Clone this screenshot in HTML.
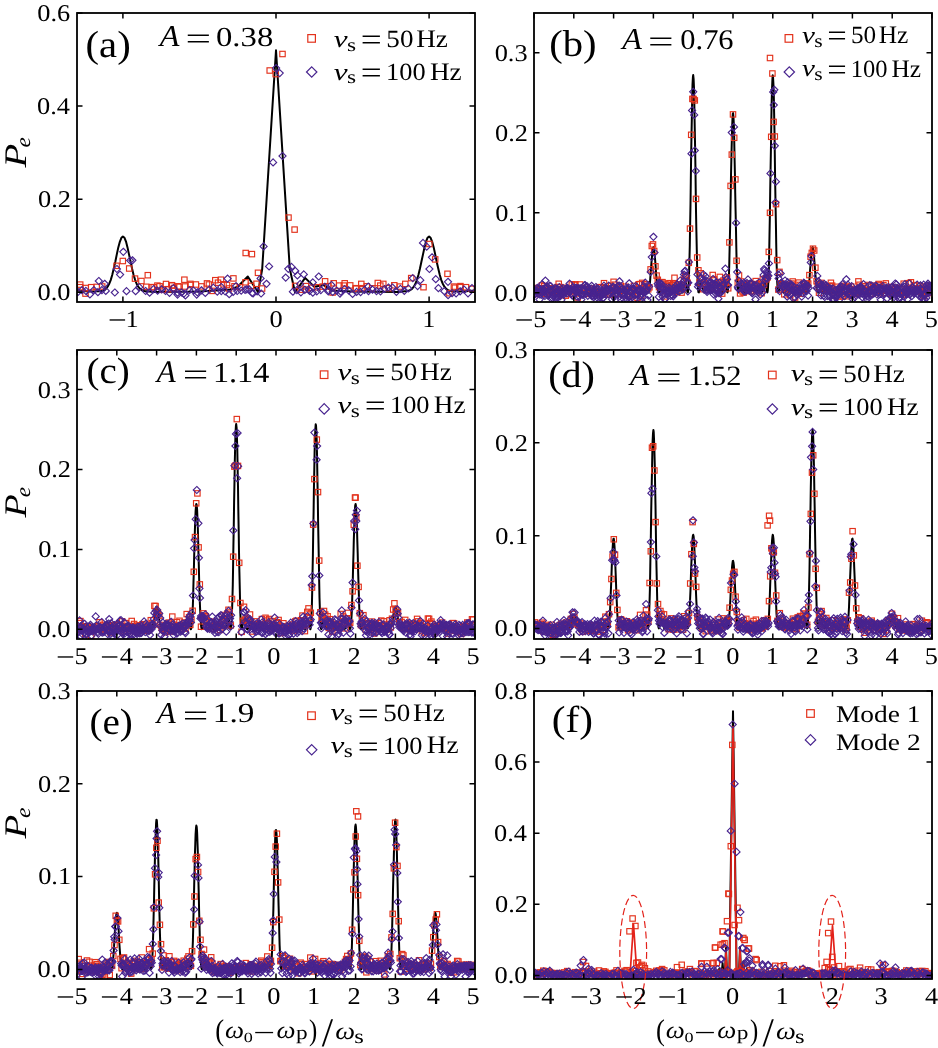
<!DOCTYPE html>
<html><head><meta charset="utf-8"><style>
html,body{margin:0;padding:0;background:#fff;overflow:hidden;}
svg{display:block;will-change:transform;}
text{font-family:"Liberation Serif", serif;fill:#000;text-rendering:geometricPrecision;}
</style></head><body>
<svg width="938" height="1048" viewBox="0 0 938 1048">
<rect width="938" height="1048" fill="#fff"/>
<defs>
<marker id="sq" markerUnits="userSpaceOnUse" markerWidth="12" markerHeight="12" refX="6" refY="6" overflow="visible"><rect x="3.3" y="3.3" width="5.4" height="5.4" fill="none" stroke="#e3321c" stroke-width="1.15"/></marker>
<marker id="di" markerUnits="userSpaceOnUse" markerWidth="12" markerHeight="12" refX="6" refY="6" overflow="visible"><path d="M6 2.45L9.55 6L6 9.55L2.45 6Z" fill="none" stroke="#48248f" stroke-width="1.15"/></marker>
<clipPath id="cpa"><rect x="77" y="13" width="398" height="289"/></clipPath>
<clipPath id="cpb"><rect x="534" y="13" width="398" height="289"/></clipPath>
<clipPath id="cpc"><rect x="77" y="350" width="398" height="289"/></clipPath>
<clipPath id="cpd"><rect x="534" y="350" width="398" height="289"/></clipPath>
<clipPath id="cpe"><rect x="77" y="691" width="398" height="288"/></clipPath>
<clipPath id="cpf"><rect x="534" y="691" width="398" height="288"/></clipPath>
</defs>
<g clip-path="url(#cpa)">
<path d="M77 290.5 89.2 291.4 98.4 291.3 100 291.2 101.5 291 103 290.5 104.6 289.8 106.1 288.6 107.6 286.7 109.1 284 110.7 280.1 112.2 275 113.7 268.8 115.3 261.8 116.8 254.4 118.3 247.4 119.9 241.6 121.4 237.8 122.9 236.5 124.5 237.8 126 241.6 127.5 247.4 129 254.4 130.6 261.8 132.1 268.8 133.6 275 135.2 280.1 136.7 284 138.2 286.7 139.8 288.6 141.3 289.8 142.8 290.5 144.4 291 145.9 291.2 147.4 291.3 153.5 291.9 199.5 291.4 230.1 289.5 237.7 286.7 247.8 276.5 258.1 292.3 262.2 269 276 50.2 289.8 269 295 292.3 305.1 277.9 314.3 286.7 323.5 284.9 331.1 290.5 352.5 291.4 398.5 291.9 404.6 291.3 406.1 291.2 407.6 291 409.2 290.5 410.7 289.8 412.2 288.6 413.8 286.7 415.3 284 416.8 280.1 418.4 275 419.9 268.8 421.4 261.8 423 254.4 424.5 247.4 426 241.6 427.5 237.8 429.1 236.5 430.6 237.8 432.1 241.6 433.7 247.4 435.2 254.4 436.7 261.8 438.3 268.8 439.8 275 441.3 280.1 442.9 284 444.4 286.7 445.9 288.6 447.4 289.8 449 290.5 450.5 291 452 291.2 453.6 291.3 462.8 291.4 475 290.5" stroke="#000" stroke-width="2" fill="none" stroke-linejoin="round"/>
<path d="M80.2 284.6 85.7 288 91.2 287.2 96.7 286.9 102.2 286.5 146.3 286.8 151.8 287.2 157.4 285.6 162.9 289.8 168.4 289.2 173.9 288 179.4 286.8 184.9 286.5 190.4 283.9 195.9 284.5 201.4 286.4 207 283.4 212.5 290.9 218 282.7 223.5 284.3 229 288.5 234.5 286.3 240 287.3 245.5 282.3 251 285.9 256.5 283.8 262.1 288.5 295.1 285.9 300.6 289.7 306.1 289.6 311.7 287.8 317.2 287.3 322.7 286.6 328.2 286.2 333.7 283.3 339.2 285.6 344.7 283.3 350.2 285.4 355.7 288.7 361.3 283.9 366.8 286.3 372.3 288.3 377.8 283 383.3 283.9 388.8 288.2 394.3 285.3 399.8 286.6 405.3 283.9 449.4 293.2 454.9 287.7 460.4 286.1 466 287.2 471.5 288.8 80.1 287.2 85.5 293.6 116.6 265.8 122.8 261 129.2 268.5 135 278.6 141.4 281 147.8 275.2 153.7 287.2 159.6 286.3 166 284 171.8 285.2 172.1 285.6 178.3 286.3 184.4 279.7 190.8 285 208.9 284.5 215.3 280.2 221 279.7 227 285 233.4 278.4 245.7 253 251.9 254.1 258 272.8 269.7 70.5 275.7 74.1 282.5 54 288.5 217.6 294.6 229.6 305.9 286.1 325.1 281.3 332.6 292.5 343.8 285.6 356 288.2 362.4 288.2 380.3 285.6 411.2 278.1 423.5 287.2 429.4 244 435.2 259.4 447.5 273.8 453.9 286.6 460.3 287.2" fill="none" stroke="none" marker-start="url(#sq)" marker-mid="url(#sq)" marker-end="url(#sq)"/>
<path d="M78 291.9 82 290.1 85.9 290.9 89.9 294.4 93.9 290.1 97.9 292.2 101.9 290.1 105.8 290.9 145.6 291 149.6 292.7 153.6 289.2 157.6 290.7 161.6 289.3 165.5 291 169.5 292.8 173.5 288.1 177.5 292.7 181.5 292.4 185.4 295.4 189.4 290.2 193.4 290.5 197.4 292.3 201.4 290.3 205.3 292.9 209.3 289.5 213.3 287.7 217.3 291.6 221.3 291.1 225.2 291.5 229.2 294.2 233.2 291.9 237.2 291 241.2 290.6 245.1 289.9 249.1 289.3 253.1 293.4 257.1 291.3 261.1 293.5 292.9 291.7 296.9 290.1 300.9 292.3 304.8 289.8 308.8 289.4 312.8 292.7 316.8 291.3 320.8 290.1 324.7 286.8 328.7 290.5 332.7 291.9 336.7 290.6 340.7 291.6 344.6 289.1 348.6 290.3 352.6 293.9 356.6 291.9 360.6 292.1 364.5 289.9 368.5 291.1 372.5 289.7 376.5 291.1 380.5 291.3 384.4 289 388.4 287.5 392.4 287.5 396.4 291.8 400.4 288.9 404.3 290.8 408.3 288.5 448.1 295.2 452.1 293.2 456.1 293.3 460.1 291.3 464 289.5 468 293.3 472 288.1 98.8 281 104.7 283.8 114.8 292.5 116.9 269 120.1 274.6 123.3 251.8 126.5 291.2 130.2 260.5 132.4 260.3 135.6 291.2 139.3 287.2 177.5 294.6 183.9 293.6 196.7 294.6 221.2 287 227.6 278.6 236.1 286.1 246.8 289.3 252.1 293 260.6 278.4 263.6 246.4 266.5 283.8 269.1 266.4 273.1 162.4 276.1 68.1 279.7 73.1 282.5 156 285.7 277.6 288.3 268.8 291.5 266.9 295.3 271 297.4 275.4 300.1 284 303.8 274.4 309.6 290.9 312.8 282.4 318.7 276.5 328.3 291.4 331.5 285 340 293.6 368.3 286.6 412.8 278.1 417.6 286.1 420.3 280.2 423 242.9 426.7 246.7 429.4 269 432 257.3 435.8 279.2 438.4 288.2 444.3 291.2 448 281.8" fill="none" stroke="none" marker-start="url(#di)" marker-mid="url(#di)" marker-end="url(#di)"/>
</g>
<path d="M122.9 302v-5.5M122.9 13v5.5M276 302v-5.5M276 13v5.5M429.1 302v-5.5M429.1 13v5.5M77 292.3h5.5M475 292.3h-5.5M77 199.2h5.5M475 199.2h-5.5M77 106.1h5.5M475 106.1h-5.5M77 13h5.5M475 13h-5.5" stroke="#000" stroke-width="1.5" fill="none"/>
<rect x="77" y="13" width="398" height="289" fill="none" stroke="#000" stroke-width="1.8"/>
<g clip-path="url(#cpb)">
<path d="M534 292.7 617.3 292.7 617.6 292.6 626.8 292.6 628.9 292.5 631.3 292.7 633.4 292.4 634.5 292.3 636.2 292.7 636.9 292.7 638 292.5 639 292.1 639.7 292 640.4 292.1 641.5 292.5 642.1 292.7 642.5 292.7 642.9 292.6 643.2 292.4 643.5 292.1 643.9 291.7 644.2 291.3 644.6 291 645 290.7 645.3 290.5 645.6 290.5 646 290.7 646.4 291.1 646.7 291.5 647 292 647.4 292.5 647.8 292.7 648.1 292.6 648.5 292.1 648.8 291 649.1 289.2 649.5 286.7 649.9 283.5 650.2 279.6 650.5 275.3 650.9 270.5 651.2 265.6 651.6 260.9 652 256.5 652.3 252.7 652.6 249.8 653 247.9 653.4 247.1 653.7 247.5 654 249.1 654.4 251.8 654.8 255.3 655.1 259.6 655.5 264.3 655.8 269.1 656.1 273.9 656.5 278.4 656.9 282.5 657.2 285.9 657.5 288 657.9 290.1 658.2 291.4 658.6 292.3 658.9 292.6 659.3 292.5 659.6 292.1 660 291.7 660.4 291.1 660.7 290.7 661 290.3 661.4 290.1 661.8 290.1 662.1 290.2 662.5 290.4 662.8 290.8 663.1 291.2 663.5 291.6 663.9 292 664.2 292.3 664.5 292.5 664.9 292.6 665.2 292.5 665.6 292.4 666.3 291.9 667 291.3 667.4 291.1 667.7 291 668 291 668.4 291.1 669.1 291.6 669.5 291.9 670.1 292.4 670.5 292.6 670.9 292.6 671.2 292.5 671.5 292.3 671.9 292 672.2 291.6 672.6 291.2 673 290.9 673.3 290.6 673.6 290.5 674 290.5 674.4 290.7 674.7 291 675 291.4 675.4 291.8 675.8 292.2 676.1 292.5 676.5 292.7 676.8 292.6 677.1 292.3 677.5 291.7 677.9 291.1 678.2 290.4 678.5 289.6 678.9 289.1 679.2 288.7 679.6 288.6 680 288.8 680.3 289.4 680.6 290.1 681 290.9 681.4 291.8 681.7 292.4 682 292.7 682.4 292.5 682.8 291.8 683.1 290.6 683.5 289 683.8 287.1 684.1 285.1 684.5 283.3 684.9 282 685.2 281.3 685.5 281.5 685.9 282.6 686.2 284.4 686.6 286.8 687 289.4 687.3 291.5 687.6 292.6 688 292.1 688.4 289.1 688.7 283.3 689 274.1 689.4 261.5 689.8 245.4 690.1 226.2 690.5 204.6 690.8 181.6 691.1 158.1 691.5 135.5 691.9 115 692.2 97.8 692.5 84.9 692.9 77.2 693.2 75.1 693.6 78.8 694 88.1 694.3 102.3 694.6 120.5 695 141.8 695.4 164.8 695.7 188.2 696 211 696.4 232 696.8 250.3 697.1 265.5 697.5 276.7 697.8 285 698.1 290 698.5 292.3 698.9 292.4 699.2 291 699.5 288.7 699.9 286.1 700.2 283.8 700.6 282.1 701 281.2 701.3 281.1 701.6 281.9 702 283.3 702.4 285.1 702.7 287.1 703 289 703.4 290.6 703.8 291.8 704.1 292.4 704.5 292.5 704.8 292.2 705.1 291.5 705.5 290.7 705.9 289.8 706.2 289 706.5 288.4 706.9 288.2 707.2 288.2 707.6 288.5 707.9 289.1 708.3 289.8 708.6 290.6 709 291.3 709.4 291.9 709.7 292.3 710 292.5 710.4 292.4 710.8 292.1 711.1 291.7 711.5 291.1 711.8 290.6 712.1 290.1 712.5 289.7 712.9 289.5 713.2 289.5 713.5 289.7 713.9 290.1 714.2 290.6 714.6 291.1 715 291.7 715.3 292.1 715.6 292.4 716 292.5 716.4 292.4 716.7 292 717 291.5 717.4 290.9 717.8 290.2 718.1 289.6 718.5 289.1 718.8 288.8 719.1 288.7 719.5 288.9 719.9 289.4 720.2 290 720.5 290.8 720.9 291.5 721.2 292.1 721.6 292.5 722 292.5 722.3 292.1 722.6 291.2 723 290 723.4 288.5 723.7 286.9 724 285.4 724.4 284.1 724.8 283.3 725.1 283.1 725.5 283.6 725.8 284.8 726.1 286.6 726.5 288.6 726.9 290.6 727.2 292.1 727.5 292.5 727.9 291.4 728.2 288.1 728.6 282.4 729 273.8 729.3 263.1 729.6 249 730 232.5 730.4 214.2 730.7 194.9 731 175.7 731.4 157.4 731.8 141.2 732.1 127.9 732.5 118.5 732.8 113.5 733.1 113.1 733.5 117.5 733.9 126.3 734.2 139.1 734.5 154.9 734.9 173 735.2 192.2 735.6 211.5 736 229.9 736.3 246.7 736.6 261.2 737 272.4 737.3 281.3 737.7 287.5 738 291 738.4 292.5 738.8 292.2 739.1 290.9 739.5 288.9 739.8 286.9 740.1 285 740.5 283.8 740.9 283.1 741.2 283.2 741.5 284 741.9 285.2 742.2 286.7 742.6 288.3 743 289.8 743.3 291.1 743.6 292 744 292.4 744.4 292.5 744.7 292.2 745 291.6 745.4 290.9 745.8 290.1 746.1 289.5 746.5 289 746.8 288.7 747.1 288.8 747.5 289 747.9 289.5 748.2 290.1 748.5 290.8 748.9 291.4 749.2 292 749.6 292.3 750 292.5 750.3 292.4 750.6 292.2 751 291.7 751.3 291.2 751.7 290.7 752 290.2 752.4 289.8 752.8 289.6 753.1 289.5 753.5 289.7 753.8 290 754.1 290.5 754.5 291.1 754.9 291.6 755.2 292.1 755.5 292.4 755.9 292.5 756.2 292.4 756.6 292 757 291.4 757.3 290.7 757.6 289.9 758 289.2 758.4 288.6 758.7 288.2 759 288.2 759.4 288.4 759.8 288.9 760.1 289.7 760.5 290.6 760.8 291.4 761.1 292.1 761.5 292.5 761.9 292.4 762.2 291.9 762.5 290.8 762.9 289.3 763.2 287.4 763.6 285.4 764 283.6 764.3 282.1 764.6 281.2 765 281.1 765.4 281.9 765.7 283.5 766 285.8 766.4 288.3 766.8 290.7 767.1 292.3 767.4 292.4 767.8 290.5 768.1 285.9 768.5 278.1 768.9 267.4 769.2 252.7 769.5 234.8 769.9 214.1 770.2 191.6 770.6 168.1 771 145 771.3 123.4 771.6 104.6 772 89.8 772.4 79.8 772.7 75.3 773 76.6 773.4 83.5 773.8 95.6 774.1 112.3 774.5 132.4 774.8 154.8 775.1 178.2 775.5 201.4 775.9 223.3 776.2 242.8 776.5 259.4 776.9 272.5 777.2 282.2 777.6 288.5 778 291.8 778.3 292.7 778.6 291.8 779 289.7 779.4 287.2 779.7 284.8 780 282.8 780.4 281.6 780.8 281.3 781.1 281.8 781.5 283.1 781.8 284.8 782.1 286.8 782.5 288.7 782.9 290.4 783.2 291.7 783.5 292.4 783.9 292.7 784.2 292.4 784.6 291.9 785 291.1 785.3 290.2 785.6 289.5 786 288.9 786.4 288.6 786.7 288.7 787 289 787.4 289.6 787.8 290.2 788.1 291 788.5 291.7 788.8 292.2 789.1 292.5 789.5 292.7 789.9 292.6 790.2 292.3 790.5 291.9 790.9 291.5 791.2 291 791.6 290.7 792 290.5 792.3 290.5 792.6 290.6 793 290.8 793.3 291.2 793.7 291.6 794 292 794.4 292.3 794.8 292.5 795.1 292.6 795.5 292.6 795.8 292.4 796.5 291.9 796.8 291.6 797.5 291.1 797.9 291 798.2 291 798.6 291.1 799.3 291.5 800 292.1 800.7 292.5 801 292.6 801.4 292.5 801.8 292.3 802.1 292.1 802.5 291.7 802.8 291.3 803.1 290.9 803.5 290.5 803.8 290.2 804.2 290.1 804.5 290.1 804.9 290.3 805.2 290.6 805.6 291.1 806 291.6 806.3 292.1 806.6 292.4 807 292.6 807.3 292.3 807.7 291.6 808 290.3 808.4 288.3 808.8 286.3 809.1 283 809.5 279 809.8 274.6 810.1 269.8 810.5 265 810.8 260.2 811.2 255.9 811.5 252.2 811.9 249.5 812.2 247.7 812.6 247.1 813 247.7 813.3 249.5 813.6 252.2 814 255.9 814.3 260.2 814.7 265 815 269.8 815.4 274.6 815.8 279 816.1 283 816.5 286.3 816.8 288.9 817.1 290.8 817.5 292 817.8 292.6 818.2 292.7 818.5 292.5 818.9 292.1 819.2 291.6 819.6 291.1 820 290.8 820.3 290.6 820.6 290.5 821 290.7 821.3 290.9 821.7 291.3 822 291.7 822.4 292 822.8 292.3 823.1 292.6 823.5 292.7 823.8 292.7 824.5 292.5 825.2 292.2 825.9 292 826.6 292 827.6 292.3 828.7 292.7 829.8 292.7 831.5 292.3 834.3 292.7 837.8 292.5 841 292.7 848.3 292.6 848.6 292.7 932 292.7" stroke="#000" stroke-width="2" fill="none" stroke-linejoin="round"/>
<path d="M534.8 288 536 294 537.2 290.3 538.4 289 539.6 292.1 540.7 288.1 541.9 285.5 543.1 291.8 544.3 286 545.5 293.8 546.7 288.5 547.9 292.3 549.1 290.5 550.3 291.7 551.5 288.3 552.7 289.5 553.9 291.8 555.1 291.1 556.3 292.4 557.5 287.1 558.7 283.8 559.9 287.1 561 290.2 562.2 294.7 563.4 287.8 564.6 289.5 565.8 295.7 567 291 568.2 290.3 569.4 294.1 570.6 289.6 571.8 284.5 573 291.1 574.2 284.9 575.4 284.4 576.6 293.5 577.8 297.5 579 288.3 580.2 284.5 581.3 288.1 582.5 288.8 583.7 289 584.9 289.7 586.1 293.9 587.3 289.2 588.5 289.5 589.7 293.4 590.9 288.5 592.1 293.5 593.3 293.4 594.5 290.8 595.7 292.1 596.9 293 598.1 292.9 599.3 287.2 600.4 294.3 601.6 287.2 602.8 293.1 604 283.2 605.2 288.5 606.4 294.7 607.6 290.5 608.8 290.6 610 294.6 611.2 285.8 612.4 288.2 613.6 281.8 614.8 284.7 616 293.8 617.2 289.5 618.4 287.4 619.6 291.2 620.7 285.7 621.9 289.3 623.1 293.4 624.3 294.2 625.5 286.7 626.7 290 627.9 295.8 629.1 292.1 630.3 290.6 631.5 290.2 632.7 295.4 633.9 285.9 635.1 290.1 636.3 291 637.5 297.9 638.7 284.3 639.9 284.1 641 296 642.2 282.9 643.4 289.4 644.6 286.6 645.8 284.3 647 287.2 648.2 289.3 649.4 287.3 650.6 269.4 651.8 246 653 244.4 654.2 251 655.4 266.3 656.6 275.6 657.8 279.8 659 287.1 660.1 283.5 661.3 282.2 662.5 282.2 663.7 288.6 664.9 296.4 666.1 284.7 667.3 286.3 668.5 283.5 669.7 283.2 670.9 287.7 672.1 285.2 673.3 283.9 674.5 277.8 675.7 287 676.9 291.9 678.1 284.3 679.3 284.6 680.4 285.6 681.6 292.6 682.8 288.6 684 279.6 685.2 275.6 686.4 277.4 687.6 282.7 688.8 262.8 690 228.6 691.2 134.8 692.4 98.9 693.6 99 694.8 100.4 696 198.9 697.2 257.5 698.4 270.3 699.6 282.5 700.7 273.3 701.9 278.5 703.1 289.2 704.3 283.6 705.5 284.7 706.7 287.1 707.9 285.1 709.1 281.5 710.3 288 711.5 287.3 712.7 275 713.9 279.4 715.1 288.3 716.3 285.2 717.5 288.4 718.7 282 719.8 276.9 721 282.9 722.2 293.6 723.4 280.6 724.6 282 725.8 282.3 727 277.5 728.2 288.3 729.4 242.4 730.6 185.9 731.8 154.6 733 114.4 734.2 137.8 735.4 179.4 736.6 260.8 737.8 282.7 739 275.5 740.1 293.4 741.3 281.5 742.5 291.4 743.7 292.6 744.9 286.3 746.1 285.3 747.3 286.4 748.5 283.6 749.7 283.8 750.9 291.3 752.1 290.5 753.3 288.8 754.5 286.8 755.7 281.1 756.9 284.1 758.1 289.1 759.3 283.7 760.4 286.6 761.6 293.2 762.8 279.3 764 284.9 765.2 278.7 766.4 279.3 767.6 277.4 768.8 251.9 770 212.8 771.2 136.8 772.4 73.5 773.6 121.9 774.8 136.5 776 204.1 777.2 260.1 778.4 289.6 779.5 271.9 780.7 283.4 781.9 284 783.1 285.5 784.3 294.3 785.5 285.3 786.7 289.2 787.9 292.1 789.1 286 790.3 295.3 791.5 283.6 792.7 281.5 793.9 287.9 795.1 297.5 796.3 289 797.5 289 798.7 282.6 799.8 284.9 801 293.7 802.2 290.2 803.4 289.9 804.6 287.5 805.8 286.2 807 283.7 808.2 283.6 809.4 275.1 810.6 256.7 811.8 252.9 813 248.7 814.2 250.5 815.4 267.7 816.6 281.3 817.8 284 819 292.7 820.1 284.4 821.3 282.9 822.5 287.3 823.7 289.6 824.9 287.2 826.1 289.3 827.3 286.9 828.5 289.4 829.7 286.3 830.9 282.8 832.1 285.6 833.3 288.9 834.5 292.8 835.7 296 836.9 286.8 838.1 289.9 839.2 291.1 840.4 296.5 841.6 289.6 842.8 296.2 844 285.9 845.2 286.8 846.4 291.3 847.6 296.2 848.8 286.8 850 289.1 851.2 286.5 852.4 294 853.6 289.7 854.8 294 856 293 857.2 289.5 858.4 281.4 859.5 284.8 860.7 291.6 861.9 288.2 863.1 293.8 864.3 289.6 865.5 286.3 866.7 290.8 867.9 285 869.1 290.3 870.3 293.8 871.5 289.5 872.7 288.4 873.9 285.6 875.1 287.4 876.3 287.2 877.5 293 878.7 284 879.8 285.4 881 290.8 882.2 290.4 883.4 285.1 884.6 293 885.8 283.4 887 288.7 888.2 289.4 889.4 290.8 890.6 293.7 891.8 287 893 292.2 894.2 293.2 895.4 287.9 896.6 288 897.8 291.4 898.9 292.6 900.1 289.5 901.3 293.5 902.5 292.8 903.7 283.7 904.9 294.6 906.1 291.5 907.3 289.4 908.5 283.2 909.7 289.7 910.9 282.3 912.1 290.4 913.3 290.4 914.5 285.1 915.7 288.3 916.9 291.6 918.1 291.3 919.2 285.7 920.4 290.9 921.6 288.5 922.8 286.5 924 296.1 925.2 291.5 926.4 289.2 927.6 292 928.8 293.1 930 285.2 931.2 286.5 770 58" fill="none" stroke="none" marker-start="url(#sq)" marker-mid="url(#sq)" marker-end="url(#sq)"/>
<path d="M534.1 289.8 534.7 294.6 535.2 291.6 535.7 293.2 536.3 291.2 536.8 291.7 537.3 287.9 537.9 293.1 538.4 288.7 539 289.5 539.5 299.6 540 294.6 540.6 291.3 541.1 289.4 541.6 293.2 542.2 284.1 542.7 290.7 543.3 288.8 543.8 295 544.3 291.9 544.9 296 545.4 280.6 545.9 288.8 546.5 288 547 286.5 547.6 295.4 548.1 294.1 548.6 293.8 549.2 290.6 549.7 285.6 550.2 292.1 550.8 286.2 551.3 289.8 551.8 299.2 552.4 297.9 552.9 296.1 553.5 290.1 554 295.9 554.5 294 555.1 288 555.6 297.6 556.1 288.8 556.7 293 557.2 295.1 557.8 297.4 558.3 292.9 558.8 289.6 559.4 287.1 559.9 295.8 560.4 296.1 561 293.7 561.5 299.8 562.1 293.2 562.6 292.7 563.1 288.1 563.7 292.9 564.2 294.1 564.7 290.1 565.3 292.6 565.8 289 566.4 288.3 566.9 293.3 567.4 287.8 568 288.9 568.5 289.3 569 292 569.6 283.6 570.1 289.7 570.7 289.6 571.2 289 571.7 293.5 572.3 295.6 572.8 287.5 573.3 295.5 573.9 293.5 574.4 289.2 575 287.9 575.5 289.8 576 287.8 576.6 290.4 577.1 296.7 577.6 288.4 578.2 288.5 578.7 288.3 579.3 296.4 579.8 293.2 580.3 288.4 580.9 294.5 581.4 299.4 581.9 294 582.5 294.4 583 294.9 583.5 289.8 584.1 289 584.6 285.2 585.2 285.2 585.7 293.8 586.2 286.4 586.8 288 587.3 286.4 587.8 295.8 588.4 292.1 588.9 290.6 589.5 291.6 590 292.6 590.5 294.5 591.1 288.5 591.6 285.8 592.1 296.5 592.7 295.6 593.2 289.7 593.8 297.2 594.3 293.6 594.8 295.7 595.4 290.2 595.9 287 596.4 289.3 597 297.3 597.5 292.4 598.1 288.9 598.6 294.5 599.1 297 599.7 292.8 600.2 297.4 600.7 292.5 601.3 294.9 601.8 294.8 602.4 290.5 602.9 298.2 603.4 297.8 604 285.7 604.5 293.9 605 287.9 605.6 289.7 606.1 289 606.7 291.1 607.2 290.5 607.7 289.8 608.3 294.1 608.8 285.6 609.3 289.7 609.9 289.1 610.4 293.1 611 291.3 611.5 291.9 612 299.2 612.6 287.4 613.1 286.7 613.6 297 614.2 294.9 614.7 291.3 615.3 288.7 615.8 299.4 616.3 294.2 616.9 288.7 617.4 286.6 617.9 289.8 618.5 290.9 619 285.5 619.5 281.3 620.1 286.6 620.6 299.1 621.2 294.6 621.7 294.7 622.2 289.1 622.8 292.9 623.3 293.7 623.8 299.3 624.4 296.2 624.9 290.6 625.5 292.1 626 288.1 626.5 299.3 627.1 289.9 627.6 288.6 628.1 297 628.7 287.6 629.2 283.3 629.8 296.7 630.3 291.7 630.8 298.3 631.4 289.8 631.9 292.6 632.4 297.1 633 288.7 633.5 289.7 634.1 289 634.6 299.3 635.1 294.9 635.7 286 636.2 294.2 636.7 287 637.3 293.9 637.8 290.7 638.4 291.6 638.9 291.3 639.4 290.9 640 296.5 640.5 299.6 641 289.9 641.6 294 642.1 296.8 642.7 291 643.2 291.2 643.7 286.2 644.3 292.1 644.8 288.8 645.3 282.7 645.9 291.7 646.4 290.6 647 289.3 647.5 300 648 285.2 648.6 295.7 649.1 286.6 650.7 271.9 651.8 257.1 653.4 236.8 654.5 252.6 657.7 283.8 658.2 286.1 658.8 296.9 659.3 282.7 659.8 283.7 660.4 292.3 660.9 286.2 661.5 284 662 288.6 662.5 296.6 663.1 289.3 663.6 293.2 664.1 293.4 664.7 299.3 665.2 298.9 665.8 289.9 666.3 287.9 666.8 292.8 667.4 291.5 667.9 290.8 668.4 293 669 287.7 669.5 291.9 670.1 288.9 670.6 295.8 671.1 291.6 671.7 294.6 672.2 295.7 672.7 290.8 673.3 296.3 673.8 288.1 674.4 294.4 674.9 290.4 675.4 286 676 289.6 676.5 287.8 677 284.7 677.6 290 678.1 288.3 678.7 287.2 679.2 291.4 679.7 290.7 680.3 280.5 680.8 287.1 681.3 286.9 681.9 284.5 682.4 288.3 683 289.2 683.5 281.3 684 274.5 684.6 271.7 685.1 270.8 686.2 275.7 687.2 282.8 687.8 291.3 688.3 282.7 688.9 262 691.5 153.7 692.1 110.4 693.2 91.8 694.2 114.9 694.8 150.5 695.8 171 697.5 274.4 698 286.7 698.5 284.2 699.1 284.1 700.7 277.5 701.8 280.5 703.4 274.5 703.9 289.5 704.4 280.8 705 284.6 705.5 276.3 706.1 280.4 706.6 289.8 707.1 291.9 707.7 289.8 708.2 288 708.7 286.2 709.3 289.6 709.8 283.5 710.4 288.2 710.9 282.4 711.4 289.8 712 284.8 712.5 283.4 713 279 713.6 294.3 714.1 283.8 714.7 284.7 715.2 290.8 715.7 293.4 716.3 282.3 716.8 285.2 717.3 289.7 717.9 290.7 718.4 298.7 718.9 293.1 719.5 282.7 720 286.4 720.6 287.6 721.1 292.3 721.6 290.9 722.2 285.2 722.7 290.6 723.2 284.7 723.8 283.8 725.4 268.6 725.9 276.9 726.5 279.6 727 279.2 727.5 285.1 728.1 285.1 731.8 132.6 734 126.9 736.1 222.9 737.2 272.1 737.8 287.1 738.3 288.7 738.8 280.7 741 283.3 742.1 284.1 742.6 286.2 743.1 289.2 743.7 283.2 744.2 291.6 744.7 290.7 745.3 291.4 745.8 287.7 746.4 289.9 746.9 283 747.4 290.1 748 279.4 748.5 288.3 749 287 749.6 290.1 750.1 283.5 750.7 288.5 751.2 292.1 751.7 283.5 752.3 293.3 752.8 286.9 753.3 292.2 753.9 287.9 754.4 285.1 754.9 288 755.5 299.5 756 290.1 756.6 285 757.1 289.1 757.6 290.9 758.2 292.5 758.7 290.2 759.2 282.4 759.8 288.5 760.3 294.7 760.9 288.5 761.4 290.1 761.9 285.4 762.5 292.3 763 286.1 763.5 275.1 764.1 269.1 764.6 270.5 765.2 279.6 765.7 278 766.2 271.8 766.8 275.5 767.3 278.6 767.8 272.2 768.4 275.8 768.9 263.4 770.5 173.4 773.2 92.1 773.8 105 774.3 89.8 774.8 145.8 775.4 202.5 775.9 181.7 778.1 274.5 778.6 278.4 779.1 288.5 779.7 291.1 780.7 273.5 781.3 282.9 781.8 285.7 782.9 287.4 783.4 286.2 784 286.3 784.5 284.6 785 280.5 785.6 291.8 786.1 285.7 786.6 284.5 787.2 296.7 787.7 282.2 788.3 292.6 788.8 292.4 789.3 287.3 789.9 294.9 790.4 285 790.9 284.3 791.5 287.2 792 289.6 792.6 285.6 793.1 290.9 793.6 298.7 794.2 296.8 794.7 290.1 795.2 291 795.8 292.6 796.3 290.3 796.9 288.3 797.4 294.8 797.9 291.7 798.5 291.2 799 291.2 799.5 289.2 800.1 292 800.6 289.8 801.2 284.7 801.7 296.6 802.2 288.4 802.8 293.2 803.3 284.4 803.8 282.7 804.4 283.4 804.9 286.8 805.5 290 806 284.7 806.5 291.3 807.1 287.1 807.6 285.6 808.1 295.6 808.7 287.9 810.8 262.4 811.4 256 816.7 288.1 817.3 275.9 817.8 289 818.3 281.2 818.9 283.5 819.4 283.8 820 288.5 820.5 285.9 821 295.5 821.6 289.9 822.1 284.8 822.6 289.5 823.2 286.2 823.7 295.7 824.3 284 824.8 297 825.3 285.8 825.9 289.2 826.4 285.4 826.9 290.3 827.5 295.9 828 287.4 828.6 290 829.1 289.7 829.6 296.1 830.2 290.6 830.7 288.5 831.2 291.4 831.8 294.5 832.3 299.1 832.9 288.5 833.4 299.8 833.9 295.3 834.5 299.8 835 294.8 835.5 290.5 836.1 297.4 836.6 295.3 837.2 293.2 837.7 293.7 838.2 294.9 838.8 289.4 839.3 287.5 839.8 299.3 840.4 289.4 840.9 287.1 841.5 286.5 842 291.7 842.5 284.1 843.1 290.4 843.6 293.4 844.1 290.2 844.7 296.2 845.2 288.4 845.8 291.5 846.3 279.3 846.8 290.1 847.4 293.8 847.9 284.7 848.4 288.3 849 291.5 849.5 294.9 850.1 294 850.6 288.6 851.1 293.5 851.7 286.2 852.2 295.7 852.7 299.3 853.3 292.6 853.8 291.3 854.3 290.4 854.9 297.1 855.4 290.1 856 291.9 856.5 290.4 857 294 857.6 288.4 858.1 293.7 858.6 290.8 859.2 294.7 859.7 288.8 860.3 286.9 860.8 286.5 861.3 288.8 861.9 293.5 862.4 297.4 862.9 291.4 863.5 284.1 864 295.2 864.6 291.3 865.1 291.5 865.6 291.6 866.2 294.7 866.7 296.5 867.2 299.3 867.8 291.4 868.3 296.7 868.9 292.7 869.4 291.3 869.9 285.1 870.5 291.9 871 295.2 871.5 285.5 872.1 288.5 872.6 294.5 873.2 290.3 873.7 288.1 874.2 293.2 874.8 291.6 875.3 288.5 875.8 285.5 876.4 286.5 876.9 294.5 877.5 292.2 878 292.5 878.5 291.6 879.1 287.7 879.6 294.2 880.1 289.4 880.7 299.8 881.2 290.3 881.8 289.5 882.3 288.9 882.8 286 883.4 288.4 883.9 294.1 884.4 294 885 292.7 885.5 290.7 886 289.3 886.6 288.1 887.1 298.4 887.7 288.8 888.2 287 888.7 290.5 889.3 292.2 889.8 290.5 890.3 295.7 890.9 290.7 891.4 287.4 892 292.8 892.5 294.1 893 287.2 893.6 294.4 894.1 297.1 894.6 291.5 895.2 283.5 895.7 287.5 896.3 284.3 896.8 289.6 897.3 290.7 897.9 295.5 898.4 298.3 898.9 290.1 899.5 298.8 900 297.4 900.6 288.5 901.1 293.1 901.6 294.5 902.2 293.8 902.7 292.2 903.2 287.8 903.8 286.5 904.3 296.8 904.9 284.2 905.4 289.8 905.9 292.8 906.5 294 907 293 907.5 299.3 908.1 290.8 908.6 293.1 909.2 283.5 909.7 289.6 910.2 294.3 910.8 293 911.3 289.2 911.8 296.2 912.4 287.4 912.9 290.1 913.5 289.1 914 293.6 914.5 292.7 915.1 290.5 915.6 291.9 916.1 291.5 916.7 290.1 917.2 284.7 917.8 294.1 918.3 290.1 918.8 295.6 919.4 292.7 919.9 293.5 920.4 285.3 921 289.3 921.5 296.9 922 289.6 922.6 299.2 923.1 294.3 923.7 284.7 924.2 295.2 924.7 299.5 925.3 295 925.8 293.6 926.3 297.9 926.9 285.3 927.4 289.6 928 283.6 928.5 285.7 929 291.5 929.6 292.4 930.1 290.6 930.6 286.1 931.2 285.9 931.7 288.7" fill="none" stroke="none" marker-start="url(#di)" marker-mid="url(#di)" marker-end="url(#di)"/>
</g>
<path d="M534 302v-5.5M534 13v5.5M573.8 302v-5.5M573.8 13v5.5M613.6 302v-5.5M613.6 13v5.5M653.4 302v-5.5M653.4 13v5.5M693.2 302v-5.5M693.2 13v5.5M733 302v-5.5M733 13v5.5M772.8 302v-5.5M772.8 13v5.5M812.6 302v-5.5M812.6 13v5.5M852.4 302v-5.5M852.4 13v5.5M892.2 302v-5.5M892.2 13v5.5M932 302v-5.5M932 13v5.5M534 292.7h5.5M932 292.7h-5.5M534 212.7h5.5M932 212.7h-5.5M534 132.7h5.5M932 132.7h-5.5M534 52.7h5.5M932 52.7h-5.5" stroke="#000" stroke-width="1.5" fill="none"/>
<rect x="534" y="13" width="398" height="289" fill="none" stroke="#000" stroke-width="1.8"/>
<g clip-path="url(#cpc)">
<path d="M77 629.3 120.8 629.3 138.6 629.2 140.3 629.3 142.4 629 143.5 629 145.2 629.3 145.9 629.3 147 628.9 147.7 628.5 148.4 628.3 148.8 628.3 149.1 628.3 149.8 628.7 150.5 629.2 150.8 629.3 151.2 629.3 151.6 629.1 151.9 628.6 152.2 627.8 152.6 626.7 152.9 625.2 153.3 623.4 153.6 621.2 154 618.9 154.3 616.5 154.7 614.1 155 611.8 155.4 609.9 155.8 608.3 156.1 607.2 156.4 606.6 156.8 606.7 157.1 607.3 157.5 608.5 157.8 610.1 158.2 612.1 158.6 614.4 158.9 616.8 159.2 619.3 159.6 621.6 159.9 623.6 160.3 625.4 160.6 626.6 161 627.7 161.3 628.5 161.7 629 162.1 629.2 162.4 629.2 162.8 629.1 163.4 628.6 164.1 628.2 164.5 628 164.8 628 165.6 628.1 166.2 628.5 166.9 628.9 167.6 629.2 168.3 629.3 169.4 628.9 170.1 628.6 170.8 628.4 171.5 628.4 172.6 628.8 173.2 629.1 173.9 629.3 174.6 629.2 175.3 628.8 176.1 628.4 176.8 628.1 177.1 628.1 177.8 628.3 178.5 628.8 179.2 629.2 179.6 629.3 179.9 629.3 180.2 629.1 180.6 628.9 180.9 628.5 181.3 628.1 181.6 627.7 182 627.4 182.3 627.2 182.7 627.1 183.1 627.2 183.4 627.4 183.8 627.8 184.1 628.2 184.4 628.7 184.8 629.1 185.1 629.3 185.5 629.3 185.9 629 186.2 628.4 186.6 627.5 186.9 626.5 187.2 625.4 187.6 624.3 187.9 623.5 188.3 623.1 188.6 623.1 189 623.6 189.3 624.5 189.7 625.8 190.1 627.2 190.4 628.5 190.8 629.2 191.1 629.1 191.4 627.7 191.8 624.7 192.1 619.9 192.5 613.2 192.9 604.4 193.2 593.8 193.5 581.7 193.9 568.6 194.2 555.2 194.6 542 194.9 529.9 195.3 519.4 195.6 511.3 196 506 196.3 503.9 196.7 505.1 197.1 509.5 197.4 516.8 197.8 526.7 198.1 538.4 198.4 551.4 198.8 564.8 199.1 578.1 199.5 590.5 199.8 601.5 200.2 610.8 200.6 617.7 200.9 623.1 201.2 626.7 201.6 628.6 201.9 629.2 202.3 628.7 202.6 627.6 203 626.2 203.3 624.8 203.7 623.7 204.1 623 204.4 622.7 204.8 622.9 205.1 623.5 205.4 624.4 205.8 625.5 206.2 626.6 206.5 627.6 206.8 628.4 207.2 628.9 207.5 629.1 207.9 629.1 208.2 628.8 208.6 628.4 208.9 627.8 209.3 627.3 209.7 626.9 210 626.5 210.3 626.4 210.7 626.4 211 626.6 211.4 627 211.8 627.5 212.1 628 212.4 628.4 212.8 628.8 213.1 629 213.5 629.1 213.8 629.1 214.2 628.8 214.5 628.5 214.9 628.1 215.2 627.6 215.6 627.2 215.9 626.9 216.3 626.7 216.6 626.7 217 626.8 217.3 627.1 217.7 627.6 218 628 218.4 628.5 218.8 628.9 219.1 629.1 219.4 629.2 219.8 629 220.1 628.6 220.5 628 220.8 627.4 221.2 626.7 221.5 626 221.9 625.5 222.2 625.2 222.6 625.2 222.9 625.5 223.3 626.1 223.6 626.8 224 627.7 224.3 628.4 224.7 629 225 629.2 225.4 629 225.8 628.3 226.1 627.1 226.4 625.5 226.8 623.7 227.1 621.9 227.5 620.2 227.8 619 228.2 618.5 228.5 618.7 228.9 619.8 229.2 621.6 229.6 623.9 229.9 626.2 230.3 628.2 230.6 629.2 231 628.6 231.3 625.7 231.7 620.1 232 611.4 232.4 599.8 232.8 584.6 233.1 566.5 233.4 546.1 233.8 524.3 234.1 502.2 234.5 480.9 234.8 461.6 235.2 445.3 235.5 433.2 235.9 426 236.2 424 236.6 427.5 236.9 436.2 237.3 449.6 237.6 466.8 238 486.8 238.3 508.5 238.7 530.7 239 552.1 239.4 571.9 239.8 589.2 240.1 603.5 240.4 614.6 240.8 622.3 241.1 627 241.5 629.1 241.8 629.1 242.2 627.7 242.5 625.6 242.9 623.2 243.2 621 243.6 619.5 243.9 618.7 244.3 618.8 244.6 619.6 245 621.1 245.3 622.8 245.7 624.7 246 626.4 246.4 627.8 246.8 628.8 247.1 629.3 247.4 629.3 247.8 628.9 248.1 628.2 248.5 627.4 248.9 626.7 249.2 626.1 249.6 625.7 249.9 625.6 250.2 625.8 250.6 626.2 250.9 626.8 251.3 627.5 251.6 628.2 252 628.7 252.3 629.1 252.7 629.3 253 629.3 253.4 629.1 253.8 628.8 254.1 628.4 254.4 628 254.8 627.7 255.1 627.5 255.5 627.4 255.8 627.5 256.2 627.7 256.5 628.1 256.9 628.4 257.2 628.7 257.6 629 257.9 629.2 258.3 629.3 258.6 629.3 259.4 629 260 628.5 260.8 628.2 261.1 628.2 261.8 628.4 262.5 628.8 263.2 629.2 263.9 629.3 264.6 629.2 265.6 628.8 266.4 628.6 267 628.6 268.1 629 269.1 629.3 269.9 629.3 271.2 628.9 271.9 628.8 272.3 629.3 279.6 629.3 280 628.8 281.4 629.1 282.4 629.3 283.1 629.2 284.2 628.8 284.9 628.6 285.6 628.6 286.6 628.9 287.7 629.3 288.4 629.3 289.1 629 289.8 628.6 290.5 628.3 290.9 628.2 291.2 628.2 291.9 628.5 292.6 629 293.3 629.3 293.6 629.3 294 629.3 294.3 629.1 295.1 628.5 295.4 628.1 295.8 627.8 296.1 627.6 296.4 627.5 296.8 627.5 297.1 627.7 297.9 628.3 298.2 628.7 298.5 629.1 298.9 629.3 299.2 629.3 299.6 629.2 299.9 628.8 300.3 628.3 300.6 627.6 301 626.9 301.4 626.3 301.7 625.9 302 625.6 302.4 625.7 302.8 626 303.1 626.6 303.4 627.3 303.8 628.1 304.1 628.8 304.5 629.2 304.9 629.3 305.2 628.9 305.5 628 305.9 626.6 306.2 624.9 306.6 623.1 306.9 621.3 307.3 619.8 307.6 618.9 308 618.7 308.4 619.3 308.7 620.8 309.1 622.8 309.4 625.2 309.8 627.5 310.1 629 310.4 629.2 310.8 627.5 311.1 623.2 311.5 615.9 311.9 605.3 312.2 591.5 312.5 574.5 312.9 555.1 313.2 533.8 313.6 511.7 313.9 489.9 314.3 469.5 314.6 451.8 315 437.9 315.4 428.5 315.7 424.2 316 425.4 316.4 431.9 316.8 443.3 317.1 459 317.4 478 317.8 499.1 318.1 521.2 318.5 543.1 318.9 563.7 319.2 582.1 319.5 597.8 319.9 609.9 320.2 619.1 320.6 625.1 320.9 628.3 321.3 629.2 321.6 628.4 322 626.6 322.4 624.2 322.7 621.9 323 620 323.4 618.8 323.8 618.5 324.1 618.9 324.5 620 324.8 621.6 325.1 623.4 325.5 625.3 325.9 626.9 326.2 628.1 326.5 628.9 326.9 629.2 327.2 629 327.6 628.5 327.9 627.8 328.3 627 328.6 626.2 329 625.6 329.4 625.3 329.7 625.2 330 625.5 330.4 625.9 330.8 626.6 331.1 627.3 331.4 628 331.8 628.5 332.1 628.9 332.5 629.2 332.9 629.1 333.2 628.9 333.6 628.6 333.9 628.1 334.2 627.6 334.6 627.2 334.9 626.9 335.3 626.7 335.6 626.7 336 626.8 336.3 627.1 336.7 627.5 337.1 628 337.4 628.4 337.8 628.8 338.1 629 338.4 629.1 338.8 629.1 339.1 628.8 339.5 628.5 339.8 628 340.2 627.5 340.6 627.1 340.9 626.7 341.2 626.4 341.6 626.4 341.9 626.5 342.3 626.8 342.6 627.2 343 627.8 343.3 628.3 343.7 628.8 344.1 629.1 344.4 629.1 344.8 628.9 345.1 628.5 345.4 627.7 345.8 626.7 346.1 625.6 346.5 624.5 346.8 623.6 347.2 622.9 347.5 622.7 347.9 622.9 348.2 623.6 348.6 624.7 348.9 626 349.3 627.4 349.6 628.6 350 629.2 350.3 628.8 350.7 627.1 351 623.8 351.4 618.6 351.8 612 352.1 603 352.4 592.1 352.8 579.9 353.1 566.7 353.5 553.3 353.8 540.2 354.2 528.2 354.5 518.1 354.9 510.4 355.2 505.5 355.6 503.9 355.9 505.5 356.3 510.4 356.6 518.1 357 528.2 357.3 540.2 357.7 553.3 358 566.7 358.4 579.9 358.8 592.1 359.1 603 359.4 612 359.8 619.1 360.1 624.2 360.5 627.4 360.8 629 361.2 629.3 361.5 628.6 361.9 627.4 362.2 626 362.6 624.7 362.9 623.7 363.3 623.1 363.6 623.1 364 623.5 364.3 624.2 364.7 625.2 365 626.3 365.4 627.4 365.8 628.2 366.1 628.9 366.4 629.2 366.8 629.3 367.1 629.1 367.5 628.8 367.8 628.3 368.2 627.8 368.5 627.5 368.9 627.2 369.2 627.1 369.6 627.1 369.9 627.4 370.3 627.7 370.6 628.1 371 628.5 371.3 628.8 371.7 629.1 372 629.3 372.4 629.3 372.8 629.2 373.4 628.8 374.1 628.4 374.8 628.1 375.2 628.1 375.9 628.4 376.6 628.8 377.3 629.1 378 629.3 378.7 629.2 379.4 628.8 380.1 628.5 380.8 628.4 381.5 628.5 382.5 628.9 383.2 629.2 383.9 629.3 384.6 629.1 385.3 628.7 386 628.3 386.8 628 387.1 628 387.4 628 388.1 628.3 388.8 628.9 389.2 629.1 389.5 629.2 389.9 629.2 390.2 629 390.6 628.6 390.9 627.8 391.3 626.8 391.6 625.7 392 623.9 392.3 621.9 392.7 619.6 393 617.2 393.4 614.8 393.8 612.5 394.1 610.4 394.4 608.7 394.8 607.4 395.1 606.7 395.5 606.6 395.8 607 396.2 608.1 396.5 609.6 396.9 611.5 397.2 613.8 397.6 616.1 397.9 618.6 398.3 620.9 398.6 623.1 399 625 399.3 626.5 399.7 627.7 400 628.5 400.4 629.1 400.8 629.3 401.1 629.3 401.4 629.2 402.1 628.7 402.8 628.3 403.2 628.3 403.9 628.3 404.6 628.7 405.3 629 406 629.3 406.7 629.3 408.4 629 409.8 629 411.9 629.3 415.4 629.2 431.2 629.3 474.9 629.3" stroke="#000" stroke-width="2" fill="none" stroke-linejoin="round"/>
<path d="M78 629.7 79.2 623.1 80.4 621.1 81.6 628.6 82.8 627.1 84 626.3 85.2 634.1 86.4 627.9 87.6 626.4 88.8 628 90 626.8 91.1 636.3 92.3 631 93.5 628.3 94.7 629.1 95.9 629.2 97.1 629.5 98.3 626.1 99.5 622.3 100.7 629.1 101.9 629.1 103.1 624.9 104.3 630.1 105.5 627 106.7 627.5 107.9 625.8 109.1 625.4 110.3 632.4 111.4 625.8 112.6 625.7 113.8 629 115 624.7 116.2 628.6 117.4 625.8 118.6 625 119.8 625 121 629 122.2 621.4 123.4 631.2 124.6 627.6 125.8 623.1 127 626.4 128.2 628.9 129.4 627.7 130.6 631 131.7 621 132.9 625.9 134.1 624 135.3 627.3 136.5 626.8 137.7 625.7 138.9 630.3 140.1 625.5 141.3 625.3 142.5 624.2 143.7 629.5 144.9 627.6 146.1 627 147.3 630.7 148.5 627.9 149.7 628.1 150.8 620.2 152 623.3 153.2 624.9 154.4 605.9 155.6 606.1 156.8 613.4 158 612.9 159.2 615.6 160.4 624.9 161.6 627.8 162.8 629.9 164 628.7 165.2 632.3 166.4 625.3 167.6 623.8 168.8 622.6 170 631.5 171.1 629.9 172.3 616.6 173.5 624.7 174.7 627 175.9 626.6 177.1 622.3 178.3 625.5 179.5 620.8 180.7 628.5 181.9 627.1 183.1 625.9 184.3 622.5 185.5 628.6 186.7 614.1 187.9 622.2 189.1 617.2 190.3 624.9 191.4 619.9 192.6 610.8 193.8 571.8 195 537.1 196.2 503.3 197.4 493.4 198.6 547.4 199.8 584.4 201 626.7 202.2 617.2 203.4 613.4 204.6 615.8 205.8 616.2 207 621.2 208.2 626.1 209.4 621.7 210.5 621.8 211.7 622.3 212.9 628.9 214.1 627.3 215.3 624.9 216.5 625.6 217.7 624.6 218.9 626 220.1 629.9 221.3 622.4 222.5 619.7 223.7 618.6 224.9 615 226.1 625.3 227.3 613.9 228.5 609.8 229.7 612.5 230.8 625.4 232 599 233.2 556.7 234.4 466.6 235.6 465.4 236.8 419.1 238 465.9 239.2 562.8 240.4 603 241.6 631.8 242.8 620.8 244 606.8 245.2 619.5 246.4 620.5 247.6 618.5 248.8 624.6 250 614.5 251.1 621.9 252.3 631.5 253.5 624.3 254.7 621.4 255.9 625.9 257.1 624.4 258.3 626.9 259.5 625.3 260.7 627.4 261.9 619.1 263.1 626.9 264.3 627.4 265.5 617.8 266.7 620.6 267.9 623.4 269.1 619 270.2 628.1 271.4 629.2 272.6 621.1 273.8 626.3 275 628.7 276.2 623.1 277.4 622.2 278.6 620 279.8 628.6 281 633 282.2 626.2 283.4 623.3 284.6 630.8 285.8 628.9 287 628.2 288.2 628.9 289.4 629 290.5 628.5 291.7 624.5 292.9 625.7 294.1 630.5 295.3 621.4 296.5 620.7 297.7 625.7 298.9 626.2 300.1 625.4 301.3 620.3 302.5 615.6 303.7 623 304.9 631.1 306.1 624.5 307.3 611.9 308.5 608.4 309.7 617.7 310.8 612.8 312 587.5 313.2 524.6 314.4 479.1 316.8 439.6 318 492.1 319.2 560.6 320.4 612.3 321.6 618.8 322.8 618.4 324 611 325.2 614.6 326.4 620.6 327.6 616.3 328.8 627.9 329.9 619.2 331.1 623.3 332.3 631.6 333.5 623.9 334.7 627 335.9 624.3 337.1 627.7 338.3 625.5 339.5 626.8 340.7 614 341.9 623.6 343.1 616.5 344.3 621.5 345.5 628.3 346.7 618.8 347.9 612.9 349.1 623.4 350.2 622.7 351.4 605 352.6 591.3 353.8 524.7 355 497.6 356.2 517.4 357.4 565.7 358.6 586.9 359.8 613.2 361 625.1 362.2 619.9 363.4 615.2 364.6 623.4 365.8 629.9 367 623.1 368.2 624.2 369.4 628.3 370.5 628.1 371.7 621.6 372.9 625.7 374.1 633.5 375.3 623.8 376.5 628.2 377.7 628.9 378.9 623.1 380.1 625.4 381.3 620.6 382.5 628.3 383.7 621.3 384.9 626.5 386.1 629.8 387.3 624.5 388.5 629.1 389.6 620.3 390.8 627.4 392 618.7 393.2 609.5 394.4 603.3 395.6 609.9 396.8 612.6 398 612.9 399.2 622.1 400.4 625.4 401.6 622 402.8 627.8 404 628.3 405.2 619.9 406.4 628.6 407.6 625.5 408.8 623.8 409.9 629.6 411.1 623.7 412.3 624.6 413.5 625.8 414.7 625 415.9 628.2 417.1 618.9 418.3 621.4 419.5 625 420.7 623.2 421.9 631.1 423.1 628.9 424.3 628.7 425.5 633 426.7 626.5 427.9 618.6 429.1 618.8 430.2 623.1 431.4 621.6 432.6 624.2 433.8 626.8 435 632.3 436.2 626.9 437.4 626.4 438.6 627.6 439.8 624.9 441 627.6 442.2 622.6 443.4 626.6 444.6 628.5 445.8 628.3 447 625.7 448.2 633.5 449.3 629.7 450.5 628.5 451.7 628.3 452.9 623.1 454.1 623.4 455.3 630.8 456.5 629.4 457.7 630.3 458.9 627.4 460.1 632.2 461.3 633.9 462.5 627 463.7 627.1 464.9 626 466.1 626.1 467.3 622.5 468.5 630.4 469.6 626.5 470.8 629.3 472 619.3 473.2 619.6 474.4 625.8 355.6 497.6" fill="none" stroke="none" marker-start="url(#sq)" marker-mid="url(#sq)" marker-end="url(#sq)"/>
<path d="M77.5 628.8 78 630 78.6 631.7 79.1 627.8 79.6 620.4 80.2 628.1 80.7 626.4 81.2 636.6 81.8 630.7 82.3 634.1 82.9 629.2 83.4 629.2 83.9 629 84.5 623.8 85 632.6 85.5 626.6 86.1 634.3 86.6 634.2 87.2 628.6 87.7 628.4 88.2 632 88.8 631.9 89.3 632.3 89.8 626.3 90.4 624.8 90.9 631 91.5 635.7 92 629.7 92.5 631.5 93.1 627.7 93.6 628.3 94.1 629.6 94.7 627.4 95.2 630.5 95.7 616.4 96.3 625.3 96.8 629.7 97.4 628.6 97.9 632.2 98.4 633.8 99 627.5 99.5 630.1 100 628.2 100.6 627.5 101.1 628 101.7 622 102.2 632.7 102.7 630.5 103.3 630.7 103.8 632.2 104.3 627 104.9 628.5 105.4 628.2 106 625.8 106.5 624.7 107 625.9 107.6 634 108.1 631.4 108.6 623.5 109.2 619.1 109.7 631.2 110.3 631 110.8 633.8 111.3 623.2 111.9 636.8 112.4 628.1 112.9 630.8 113.5 633.1 114 629.3 114.6 625.1 115.1 629 115.6 633 116.2 630.8 116.7 630.4 117.2 635.2 117.8 623.5 118.3 626.4 118.9 626.3 119.4 630.1 119.9 620.7 120.5 627.3 121 620.1 121.5 632.1 122.1 626.1 122.6 629.4 123.2 629.4 123.7 632.5 124.2 622.3 124.8 633.5 125.3 636.6 125.8 627.6 126.4 636.8 126.9 626.6 127.4 626.2 128 627.7 128.5 625.8 129.1 630.8 129.6 633.9 130.1 628.6 130.7 633.3 131.2 629.8 131.7 634.6 132.3 630.3 132.8 627.4 133.4 627.8 133.9 634.4 134.4 628.7 135 630.6 135.5 628.6 136 631.2 136.6 632.8 137.1 633.9 137.7 626.8 138.2 632.6 138.7 629.5 139.3 627.1 139.8 633.5 140.3 626.4 140.9 628.5 141.4 632.9 142 629.8 142.5 631.3 143 628 143.6 628.9 144.1 621.4 144.6 630 145.2 632.1 145.7 623.8 146.3 626.5 146.8 627 147.3 629.9 147.9 628.4 148.4 628.3 148.9 631.2 149.5 629.8 150 635 150.6 627.2 151.1 625 151.6 629.1 152.2 625.4 152.7 624 153.2 626.2 153.8 619 154.3 612.9 154.9 622.1 155.9 610.8 156.5 614.3 157 609.7 157.5 616.3 159.2 613.4 160.2 618 160.8 626 161.3 634.9 161.8 627.6 162.4 630.5 162.9 622.7 163.4 631.4 164 627 164.5 636.7 165.1 626.3 165.6 624.1 166.1 625.3 166.7 626.3 167.2 624.3 167.7 631.2 168.3 624.7 168.8 628 169.4 629 169.9 630.6 170.4 630.3 171 621.8 171.5 626.1 172 627.8 172.6 624.6 173.1 631.2 173.7 635.1 174.2 630.2 174.7 631.1 175.3 627.9 175.8 627.1 176.3 629.7 176.9 633.7 177.4 632.6 178 629.6 178.5 625.8 179 628.4 179.6 626.3 180.1 625.5 180.6 631.7 181.2 624.6 181.7 629 182.3 630.6 182.8 623.5 183.3 626.5 183.9 625.1 184.4 626.2 184.9 631.8 185.5 633.1 186 625.7 186.6 624.1 187.1 622.7 187.6 625.1 188.2 620.5 188.7 621.1 189.2 616.7 189.8 619.7 190.3 616.5 190.9 622.4 191.4 613.2 193 595.6 194.1 548.3 194.6 540.1 195.7 519.2 196.8 490 198.4 523.3 198.9 557.8 199.4 588.6 200 598 200.5 618.4 201.1 616 201.6 617.4 202.1 618.7 202.7 616.1 203.2 619.7 204.3 618.1 205.4 614.4 205.9 626.4 206.4 621.5 207 625.8 207.5 628.7 208 628.2 208.6 626.3 209.1 626.6 209.7 629 210.2 627.8 210.7 622.8 211.3 622.2 211.8 622.6 212.3 616.6 212.9 624.1 213.4 629.7 214 627.6 214.5 623.3 215 632.9 215.6 626.2 216.1 621.8 216.6 624.8 217.2 632 217.7 618 218.3 626.9 218.8 632.1 219.3 616.5 219.9 626.8 220.4 623.4 220.9 615.2 221.5 615.8 222 624.9 222.6 628.7 223.1 621 223.6 617.5 224.2 625.8 224.7 626 225.2 616.5 225.8 623.5 226.3 631.7 226.8 613.8 227.4 617.6 228.5 610.8 229.5 621.4 230.1 618.5 230.6 626.6 231.1 615.3 233.3 530.5 234.4 465.7 235.4 446 236 433.9 237.1 478.2 237.6 433.1 238.1 466.2 241.4 632.2 241.9 626 243.5 612.2 244.6 612.4 245.1 621.8 245.7 610.2 246.2 623.6 246.7 628.5 247.3 629.5 247.8 629.6 248.3 618 248.9 619.9 249.4 624.4 250 620.6 250.5 619.7 251 625.2 251.6 625.7 252.1 625.4 252.6 634.2 253.2 626.9 253.7 626.5 254.3 625.7 254.8 628 255.3 625.1 255.9 631.8 256.4 623.5 256.9 631.2 257.5 629.7 258 629.1 258.6 628 259.1 631.1 259.6 623.6 260.2 625.4 260.7 626.9 261.2 619.5 261.8 632.8 262.3 622.4 262.8 632.8 263.4 627.8 263.9 628.1 264.5 625.3 265 625.5 265.5 634.2 266.1 629.2 266.6 628.7 267.1 632.4 267.7 625.9 268.2 630 268.8 622.2 269.3 623.9 269.8 631.8 270.4 625.1 270.9 629.5 271.4 630.7 272 626.4 272.5 629.3 273.1 624.9 273.6 628.1 274.1 625 274.7 617.6 275.2 628.2 275.7 633.3 276.3 625.4 276.8 633 277.4 627.7 277.9 628.7 278.4 628.3 279 633.7 279.5 624.1 280 630.8 280.6 632.5 281.1 630.5 281.7 631 282.2 628.5 282.7 626.7 283.3 627 283.8 628 284.3 630.5 284.9 630.4 285.4 633 286 636.3 286.5 629 287 626.2 287.6 626.7 288.1 629.9 288.6 635.7 289.2 634.5 289.7 626.6 290.3 625.7 290.8 622.7 291.3 629.1 291.9 629 292.4 628.3 292.9 625.6 293.5 633.7 294 630 294.5 626.9 295.1 624.9 295.6 621.1 296.2 623.6 296.7 624.2 297.2 633.1 297.8 628.1 298.3 629.7 298.8 631.6 299.4 628.4 299.9 626.6 300.5 624 301 622.1 301.5 626.4 302.1 631.2 302.6 622.7 303.1 616.8 303.7 622 304.2 628.7 304.8 619.2 305.3 625.2 305.8 621.6 306.4 623.3 307.4 616.2 309.6 624.8 310.1 620.9 310.7 619.4 311.7 585.1 312.3 576.3 313.4 523.5 314.4 432.6 316.6 459.8 317.1 446.1 319.3 575.5 319.8 613.4 320.9 622.7 321.4 628.5 322 622.4 322.5 625.1 323 612.4 324.6 617.6 325.7 626 326.3 620.8 326.8 625.4 327.3 626.4 327.9 622.2 328.4 634.6 328.9 623.3 329.5 621.4 330 623.2 330.5 622.2 331.1 625.7 331.6 636.1 332.2 629.4 332.7 628.8 333.2 627.8 333.8 626.6 334.3 622.4 334.8 619.3 335.4 632.5 335.9 620.4 336.5 624.8 337 625.2 337.5 635.5 338.1 625.8 338.6 633.8 339.1 627 339.7 629.8 340.2 627.4 340.8 618.4 341.3 626.8 341.8 610.4 342.4 618.7 342.9 624.5 343.4 632.6 344 625.2 344.5 620.1 345.1 619.9 345.6 622.4 346.1 618.5 348.3 621.3 348.8 620.7 349.4 621.5 349.9 628.3 350.4 633.7 351.5 607.7 352.6 582.6 354.2 521 355.3 529.2 355.8 514.7 356.3 521.1 356.9 510.6 359 600.4 360.1 613.5 360.6 623.8 361.2 626.3 361.7 621.5 362.2 623.4 364.9 618.9 365.5 630.8 366 635.3 366.5 621.4 367.1 628.1 367.6 631.9 368.2 627.8 368.7 623.9 369.2 627.3 369.8 634.6 370.3 625.8 370.8 624.5 371.4 623.6 371.9 622.8 372.5 633.3 373 631.8 373.5 627.3 374.1 627.1 374.6 625.3 375.1 622.9 375.7 632.5 376.2 625.2 376.8 632.4 377.3 628.2 377.8 627 378.4 629.2 378.9 622 379.4 626 380 626.7 380.5 628.4 381.1 632 381.6 631.4 382.1 633.2 382.7 625.7 383.2 624.3 383.7 630.2 384.3 631.8 384.8 630.7 385.4 628.9 385.9 627.6 386.4 627.8 387 626.1 387.5 629.1 388 627.1 388.6 632 389.1 634.7 389.7 634.3 390.2 624.7 390.7 627.9 391.3 623.9 391.8 621.8 392.9 618.6 397.2 609.3 397.7 613.7 398.2 617.6 398.8 624.8 399.3 627.2 399.9 623 400.4 624.4 400.9 625.9 401.5 628.6 402 626.1 402.5 628.9 403.1 629.8 403.6 631.1 404.2 628.8 404.7 626.6 405.2 624.4 405.8 632.6 406.3 625.2 406.8 623.1 407.4 624.6 407.9 628.7 408.5 628.7 409 628.2 409.5 622.6 410.1 634.5 410.6 636.4 411.1 630.5 411.7 630 412.2 631.9 412.8 626.5 413.3 623.1 413.8 629.2 414.4 628.3 414.9 631.5 415.4 624.6 416 629 416.5 629.2 417.1 627.2 417.6 626.2 418.1 626.1 418.7 626.1 419.2 627.5 419.7 628.3 420.3 621 420.8 627.6 421.4 626.1 421.9 635.2 422.4 628.9 423 623.5 423.5 628 424 629.8 424.6 635.3 425.1 627.7 425.7 631.4 426.2 630.1 426.7 629.5 427.3 629.9 427.8 625.4 428.3 630.6 428.9 632.5 429.4 631.1 429.9 634 430.5 629.4 431 636 431.6 631.7 432.1 628.3 432.6 627.2 433.2 633.8 433.7 633.6 434.2 624.6 434.8 626.6 435.3 628.9 435.9 630.8 436.4 633.2 436.9 628 437.5 629.1 438 630.9 438.5 629.3 439.1 629.1 439.6 623.8 440.2 624.2 440.7 620.2 441.2 628.8 441.8 626.8 442.3 625.3 442.8 636.1 443.4 623.1 443.9 625.1 444.5 630 445 625.6 445.5 629.5 446.1 629.7 446.6 624.9 447.1 636.4 447.7 631.1 448.2 625.5 448.8 633.1 449.3 624.4 449.8 627.1 450.4 624.8 450.9 629.5 451.4 628.6 452 633.4 452.5 628.7 453.1 633.9 453.6 626.3 454.1 629.8 454.7 628.6 455.2 624.3 455.7 631.8 456.3 626.4 456.8 631 457.4 631.5 457.9 629.5 458.4 635.2 459 624.9 459.5 633.3 460 625.7 460.6 629.5 461.1 629.9 461.6 632.8 462.2 632.4 462.7 624.9 463.3 633.3 463.8 630.5 464.3 629.3 464.9 628.6 465.4 628.3 465.9 632.2 466.5 624.9 467 623.3 467.6 628.8 468.1 632.1 468.6 623.4 469.2 623.3 469.7 632 470.2 629.3 470.8 630.8 471.3 628.1 471.9 632.6 472.4 631.3 472.9 624.4 473.5 632.4 474 627.9 474.5 624" fill="none" stroke="none" marker-start="url(#di)" marker-mid="url(#di)" marker-end="url(#di)"/>
</g>
<path d="M77 639v-5.5M77 350v5.5M116.8 639v-5.5M116.8 350v5.5M156.6 639v-5.5M156.6 350v5.5M196.4 639v-5.5M196.4 350v5.5M236.2 639v-5.5M236.2 350v5.5M276 639v-5.5M276 350v5.5M315.8 639v-5.5M315.8 350v5.5M355.6 639v-5.5M355.6 350v5.5M395.4 639v-5.5M395.4 350v5.5M435.2 639v-5.5M435.2 350v5.5M475 639v-5.5M475 350v5.5M77 629.3h5.5M475 629.3h-5.5M77 549.4h5.5M475 549.4h-5.5M77 469.5h5.5M475 469.5h-5.5M77 389.6h5.5M475 389.6h-5.5" stroke="#000" stroke-width="1.5" fill="none"/>
<rect x="77" y="350" width="398" height="289" fill="none" stroke="#000" stroke-width="1.8"/>
<g clip-path="url(#cpd)">
<path d="M534 628.5 561 628.3 562.7 628.5 564.1 628.3 565.1 628 565.9 627.9 566.5 628 567.6 628.4 568.3 628.5 568.6 628.4 569 628.2 569.4 627.8 569.7 627.2 570 626.4 570.4 625.4 570.8 624.2 571.1 622.9 571.5 621.6 571.8 620.2 572.1 618.9 572.5 617.7 572.9 616.7 573.2 616 573.5 615.6 573.9 615.5 574.2 615.8 574.6 616.4 575 617.2 575.3 618.3 575.6 619.6 576 621 576.4 622.4 576.7 623.7 577 624.9 577.4 626 577.8 626.9 578.1 627.4 578.4 627.9 578.8 628.2 579.1 628.4 579.5 628.5 580.2 628.3 581.2 627.9 582 627.7 582.6 627.7 583.7 628.1 584.8 628.4 585.8 628.4 587.2 628.1 588.2 627.9 589.3 628 590.4 628.3 591 628.5 591.8 628.4 592.8 628.1 593.9 627.7 594.5 627.7 595.6 628.1 596.3 628.4 597 628.5 597.4 628.4 598 628 598.8 627.5 599.5 627 599.8 626.9 600.1 627 600.5 627.1 601.2 627.7 601.5 628 601.9 628.3 602.2 628.5 602.6 628.5 603 628.3 603.3 628 603.6 627.4 604 626.7 604.4 625.9 604.7 625.2 605 624.6 605.4 624.2 605.8 624.1 606.1 624.4 606.4 625 606.8 625.8 607.1 626.8 607.5 627.7 607.9 628.4 608.2 628.4 608.5 627.7 608.9 625.9 609.2 622.8 609.6 618.3 610 612.4 610.3 605.1 610.6 596.7 611 587.5 611.4 577.9 611.7 568.4 612 559.4 612.4 551.5 612.8 545.2 613.1 540.8 613.5 538.7 613.8 538.8 614.1 541.3 614.5 546 614.9 552.6 615.2 560.6 615.5 569.7 615.9 579.3 616.2 588.9 616.6 598 617 606.2 617.3 613.3 617.6 618.5 618 622.9 618.4 625.8 618.7 627.6 619 628.3 619.4 628.2 619.8 627.6 620.1 626.7 620.5 625.7 620.8 624.8 621.1 624.1 621.5 623.8 621.9 623.8 622.2 624.1 622.5 624.6 622.9 625.4 623.2 626.1 623.6 626.9 624 627.5 624.3 628 624.6 628.3 625 628.3 625.4 628.2 625.7 627.9 626 627.6 626.4 627.2 626.8 626.8 627.1 626.5 627.5 626.3 627.8 626.2 628.1 626.3 628.5 626.5 628.9 626.8 629.2 627.2 629.5 627.6 629.9 627.9 630.2 628.2 630.6 628.3 631 628.3 631.3 628.2 631.6 628 632 627.6 632.4 627.2 632.7 626.9 633 626.5 633.4 626.3 633.8 626.2 634.1 626.2 634.5 626.4 634.8 626.8 635.1 627.2 635.5 627.6 635.9 628 636.2 628.3 636.5 628.4 636.9 628.3 637.2 628 637.6 627.6 638 627 638.3 626.3 638.6 625.7 639 625.1 639.4 624.8 639.7 624.7 640 624.9 640.4 625.3 640.8 626 641.1 626.7 641.5 627.5 641.8 628.1 642.1 628.4 642.5 628.3 642.9 627.8 643.2 626.8 643.5 625.4 643.9 623.7 644.2 622 644.6 620.3 645 619 645.3 618.3 645.6 618.3 646 619.1 646.4 620.7 646.7 622.7 647 625 647.4 627.1 647.8 628.3 648.1 628.2 648.5 626 648.8 621.4 649.1 613.8 649.5 603.3 649.9 589.4 650.2 572.6 650.5 553.5 650.9 532.8 651.2 511.4 651.6 490.5 652 471.1 652.3 454.5 652.6 441.6 653 433.3 653.4 429.9 653.7 431.8 654 438.8 654.4 450.4 654.8 466.1 655.1 484.7 655.5 505.3 655.8 526.7 656.1 547.7 656.5 567.4 656.9 584.9 657.2 599.6 657.5 611 657.9 619.5 658.2 625 658.6 627.8 658.9 628.4 659.3 627.5 659.6 625.6 660 623.4 660.4 621.2 660.7 619.5 661 618.5 661.4 618.2 661.8 618.7 662.1 619.9 662.5 621.5 662.8 623.2 663.1 624.9 663.5 626.4 663.9 627.6 664.2 628.2 664.5 628.4 664.9 628.2 665.2 627.7 665.6 626.9 666 626.2 666.3 625.5 666.6 625 667 624.7 667.4 624.7 667.7 625 668 625.5 668.4 626.1 668.8 626.8 669.1 627.4 669.5 627.9 669.8 628.2 670.1 628.4 670.5 628.3 670.9 628.1 671.2 627.7 671.5 627.3 671.9 626.9 672.2 626.5 672.6 626.3 673 626.2 673.3 626.2 673.6 626.4 674 626.7 674.4 627.1 674.7 627.5 675 627.9 675.4 628.1 675.8 628.3 676.1 628.4 676.5 628.2 676.8 628 677.1 627.7 677.5 627.3 677.9 626.9 678.2 626.6 678.5 626.3 678.9 626.2 679.2 626.2 679.6 626.3 680 626.6 680.3 627 680.6 627.4 681 627.8 681.4 628.1 681.7 628.3 682 628.3 682.4 628.1 682.8 627.7 683.1 627.1 683.5 626.3 683.8 625.5 684.1 624.7 684.5 624.1 684.9 623.7 685.2 623.5 685.5 623.8 685.9 624.4 686.2 625.2 686.6 626.3 687 627.3 687.3 628.1 687.6 628.4 688 627.9 688.4 626.4 688.7 623.7 689 619.6 689.4 614.5 689.8 607.5 690.1 599.3 690.5 590 690.8 580.1 691.1 570.1 691.5 560.4 691.9 551.7 692.2 544.4 692.5 538.9 692.9 535.6 693.2 534.8 693.6 536.3 694 540.3 694.3 546.3 694.6 554.1 695 563.1 695.4 572.9 695.7 583 696 592.7 696.4 601.8 696.8 609.7 697.1 616.3 697.5 621.2 697.8 624.9 698.1 627.2 698.5 628.3 698.9 628.4 699.2 627.9 699.5 627 699.9 626 700.2 625 700.6 624.3 701 623.9 701.3 623.8 701.6 624.1 702 624.7 702.4 625.4 702.7 626.2 703 627 703.4 627.6 703.8 628.1 704.1 628.4 704.5 628.4 704.8 628.3 705.5 627.7 705.9 627.4 706.2 627 706.5 626.8 706.9 626.7 707.2 626.7 707.6 626.8 708.3 627.4 708.6 627.7 709.4 628.2 709.7 628.4 710 628.4 710.4 628.4 711.1 628.1 711.8 627.7 712.5 627.3 713.2 627.3 713.9 627.5 714.6 627.9 715.3 628.3 716 628.4 716.7 628.2 717.4 627.8 718.1 627.3 718.8 627.1 719.1 627 719.5 627.1 720.2 627.5 720.9 628.1 721.2 628.3 721.6 628.4 722 628.4 722.3 628.2 722.6 627.9 723 627.5 723.4 626.9 723.7 626.4 724 625.8 724.4 625.4 724.8 625.1 725.1 625.1 725.5 625.3 725.8 625.7 726.1 626.4 726.5 627.1 726.9 627.8 727.2 628.3 727.5 628.4 727.9 627.9 728.2 626.6 728.6 624.4 729 621.1 729.3 617 729.6 611.7 730 605.5 730.4 598.6 730.7 591.4 731 584.2 731.4 577.4 731.8 571.3 732.1 566.4 732.5 562.9 732.8 561 733.1 560.9 733.5 562.5 733.9 565.8 734.2 570.6 734.5 576.5 734.9 583.2 735.2 590.4 735.6 597.6 736 604.5 736.3 610.8 736.6 616.3 737 620.5 737.3 624 737.7 626.3 738 627.8 738.4 628.4 738.8 628.4 739.1 627.9 739.5 627.2 739.8 626.5 740.1 625.8 740.5 625.3 740.9 625.1 741.2 625.1 741.5 625.3 741.9 625.7 742.2 626.3 742.6 626.9 743 627.4 743.3 627.9 743.6 628.2 744 628.4 744.4 628.4 744.7 628.3 745.4 627.9 746.1 627.3 746.5 627.2 746.8 627.1 747.1 627 747.9 627.3 748.5 627.8 749.2 628.2 750 628.4 750.6 628.3 751.3 628 752 627.6 752.8 627.3 753.5 627.3 754.1 627.6 754.9 628.1 755.5 628.4 755.9 628.4 756.2 628.4 756.6 628.2 757.3 627.7 757.6 627.4 758.4 626.9 758.7 626.7 759 626.7 759.4 626.8 759.8 627 760.1 627.3 760.5 627.7 760.8 628 761.1 628.3 761.5 628.4 761.9 628.4 762.2 628.2 762.5 627.7 762.9 627.1 763.2 626.3 763.6 625.5 764 624.8 764.3 624.2 764.6 623.9 765 623.9 765.4 624.2 765.7 624.9 766 625.8 766.4 626.9 766.8 627.8 767.1 628.4 767.4 628.3 767.8 627.4 768.1 625.3 768.5 621.8 768.9 617.1 769.2 610.7 769.5 603 769.9 594.1 770.2 584.4 770.6 574.4 771 564.5 771.3 555.3 771.6 547.3 772 541 772.4 536.8 772.7 534.8 773 535.4 773.4 538.3 773.8 543.5 774.1 550.6 774.5 559.1 774.8 568.7 775.1 578.7 775.5 588.6 775.9 598 776.2 606.4 776.5 613.6 776.9 618.9 777.2 623.2 777.6 626.1 778 627.8 778.3 628.4 778.6 628.2 779 627.4 779.4 626.4 779.7 625.4 780 624.5 780.4 623.9 780.8 623.6 781.1 623.6 781.5 624 781.8 624.6 782.1 625.4 782.5 626.2 782.9 627 783.2 627.6 783.5 628.1 783.9 628.3 784.2 628.3 784.6 628.2 785 627.9 785.3 627.5 785.6 627 786 626.7 786.4 626.4 786.7 626.2 787 626.2 787.4 626.3 787.8 626.5 788.1 626.8 788.5 627.2 788.8 627.6 789.1 628 789.5 628.2 789.9 628.3 790.2 628.3 790.5 628.2 790.9 627.9 791.2 627.5 791.6 627.2 792 626.8 792.3 626.4 792.6 626.2 793 626.2 793.3 626.2 793.7 626.5 794 626.8 794.4 627.2 794.8 627.7 795.1 628 795.5 628.3 795.8 628.4 796.1 628.3 796.5 628 796.8 627.5 797.2 626.9 797.5 626.2 797.9 625.6 798.2 625.1 798.6 624.7 799 624.7 799.3 624.9 799.6 625.4 800 626.1 800.3 626.8 800.7 627.6 801 628.1 801.4 628.4 801.8 628.3 802.1 627.7 802.5 626.6 802.8 625.2 803.1 623.5 803.5 621.7 803.8 620.1 804.2 618.9 804.5 618.3 804.9 618.4 805.2 619.3 805.6 620.9 806 623.1 806.3 625.3 806.6 627.3 807 628.4 807.3 628 807.7 625.5 808 620.4 808.4 612.4 808.8 601.5 809.1 587.2 809.5 570 809.8 550.6 810.1 529.7 810.5 508.3 810.8 487.6 811.2 468.6 811.5 452.4 811.9 440.2 812.2 432.5 812.6 429.8 813 432.5 813.3 440.2 813.6 452.4 814 468.6 814.3 487.6 814.7 508.3 815 529.7 815.4 550.6 815.8 570 816.1 587.2 816.5 601.5 816.8 612.4 817.1 620.5 817.5 625.5 817.8 628 818.2 628.4 818.5 627.3 818.9 625.3 819.2 623.1 819.6 620.9 820 619.3 820.3 618.4 820.6 618.3 821 618.9 821.3 620.1 821.7 621.7 822 623.5 822.4 625.2 822.8 626.6 823.1 627.7 823.5 628.3 823.8 628.4 824.1 628.1 824.5 627.6 824.8 626.8 825.2 626.1 825.5 625.4 825.9 624.9 826.2 624.7 826.6 624.8 827 625.1 827.3 625.6 827.6 626.2 828 626.9 828.3 627.5 828.7 628 829 628.3 829.4 628.4 829.8 628.3 830.1 628 830.5 627.7 830.8 627.2 831.1 626.8 831.5 626.5 831.8 626.3 832.2 626.2 832.5 626.3 832.9 626.5 833.2 626.8 833.6 627.2 834 627.6 834.3 627.9 834.6 628.2 835 628.3 835.3 628.3 835.7 628.2 836 628 836.4 627.6 836.8 627.3 837.1 626.9 837.5 626.5 837.8 626.3 838.1 626.2 838.5 626.2 838.8 626.4 839.2 626.7 839.5 627.1 839.9 627.5 840.2 627.9 840.6 628.2 841 628.3 841.3 628.3 841.6 628.1 842 627.6 842.3 627 842.7 626.3 843 625.5 843.4 624.7 843.8 624.2 844.1 623.8 844.5 623.8 844.8 624 845.1 624.6 845.5 625.5 845.8 626.5 846.2 627.5 846.5 628.2 846.9 628.4 847.2 627.8 847.6 626.2 848 623.4 848.3 619.2 848.6 614.2 849 607.3 849.3 599.2 849.7 590.2 850 580.7 850.4 571 850.8 561.9 851.1 553.6 851.5 546.8 851.8 541.9 852.1 539.1 852.5 538.6 852.8 540.4 853.2 544.5 853.5 550.5 853.9 558.2 854.2 567 854.6 576.5 855 586.1 855.3 595.4 855.6 604 856 611.4 856.3 617.5 856.7 622.2 857 625.5 857.4 627.5 857.8 628.4 858.1 628.4 858.5 627.8 858.8 626.9 859.1 626 859.5 625.1 859.8 624.4 860.2 624.1 860.5 624.2 860.9 624.5 861.2 625.1 861.6 625.8 862 626.6 862.3 627.3 862.6 627.9 863 628.3 863.3 628.5 863.7 628.5 864 628.3 864.8 627.7 865.1 627.4 865.5 627.1 865.8 627 866.1 626.9 866.5 627 867.2 627.4 867.9 628 868.6 628.4 869 628.5 869.6 628.4 870.7 627.9 871.4 627.7 872.1 627.7 873.1 628 874.2 628.4 874.9 628.5 876.3 628.1 877.3 627.9 878.4 628 879.8 628.4 880.9 628.5 882.2 628.1 883.3 627.8 884 627.7 885 628 886.1 628.4 886.5 628.5 886.8 628.4 887.1 628.3 887.5 627.9 887.8 627.5 888.2 626.8 888.5 626.1 888.9 625.1 889.2 623.9 889.6 622.6 890 621.2 890.3 619.8 890.6 618.5 891 617.4 891.3 616.5 891.7 615.9 892 615.5 892.4 615.6 892.8 615.9 893.1 616.6 893.5 617.5 893.8 618.7 894.1 620 894.5 621.4 894.8 622.8 895.2 624.1 895.5 625.3 895.9 626.3 896.2 627.1 896.6 627.7 897 628.2 897.3 628.4 897.6 628.5 898.3 628.4 899.4 628 900.1 627.9 901.8 628.3 902.9 628.5 906.4 628.3 932 628.5" stroke="#000" stroke-width="2" fill="none" stroke-linejoin="round"/>
<path d="M535 622.4 536.2 623.9 537.4 625.4 538.6 626.2 539.8 627.8 541 624.1 542.2 622.7 543.4 631.3 544.6 626.9 545.7 624.9 546.9 627.9 548.1 626.4 549.3 628.5 550.5 630 551.7 624.8 552.9 634.9 554.1 633.9 555.3 629.9 556.5 627.3 557.7 631.9 558.9 625.7 560.1 626.5 561.3 623.7 562.5 631.2 563.7 624.8 564.8 626.1 566 622.5 567.2 624.3 568.4 626.3 569.6 622.4 570.8 619 572 619.1 573.2 613.9 574.4 617.4 575.6 624 576.8 622.9 578 624.6 579.2 625.4 580.4 623.5 581.6 629 582.8 631.8 584 625.4 585.1 626.6 586.3 625.7 587.5 630.6 588.7 628 589.9 628.6 591.1 631 592.3 630.6 593.5 625.3 594.7 625.2 595.9 626.3 597.1 630.1 598.3 631.6 599.5 627.5 600.7 625.5 601.9 626 603.1 629.7 604.3 622.1 605.4 616.7 606.6 621.5 607.8 624.7 609 614.2 610.2 602.1 611.4 579 612.6 556.5 613.8 539.3 615 554.7 616.2 592.9 617.4 609.9 618.6 627.4 619.8 626.2 621 619.3 622.2 620.6 623.4 622.9 624.5 625.6 625.7 622.8 626.9 621.3 628.1 630.3 629.3 629 630.5 622.9 631.7 624.5 632.9 622.8 634.1 627.3 635.3 628.2 636.5 630.2 637.7 624.2 638.9 625.2 640.1 614.9 641.3 620.3 642.5 625.1 643.7 626.9 644.8 621.8 646 610.3 647.2 614.6 648.4 621.4 649.6 583 650.8 551.3 652 447.7 653.2 446.3 654.4 470.5 655.6 522.1 656.8 583.4 658 604.1 659.2 614.2 660.4 611 661.6 614 662.8 621.1 664 614.4 665.1 622.2 666.3 623.2 667.5 624.8 668.7 629.2 669.9 629 671.1 618.4 672.3 626.1 673.5 629.5 674.7 620.3 675.9 629.3 677.1 623.6 678.3 627.3 679.5 622.3 680.7 624 681.9 627.1 683.1 629.6 684.2 616.3 685.4 618.3 686.6 622.9 687.8 621.5 689 613 690.2 583.5 691.4 554.2 692.6 522.1 693.8 543.9 695 573.6 696.2 586.9 697.4 617.1 698.6 618.1 699.8 622.4 701 623.2 702.2 628.7 703.4 625.7 704.5 625.8 705.7 631.2 706.9 625 708.1 626 709.3 626.1 710.5 629.2 711.7 630.4 712.9 627.3 714.1 623.6 715.3 626.9 716.5 631.1 717.7 619.5 718.9 630.2 720.1 626.1 721.3 626.4 722.5 626.2 723.7 618.4 724.8 620.8 726 621.6 727.2 619.6 728.4 621.3 729.6 607.7 730.8 589.8 732 580.5 733.2 573.9 734.4 571.9 735.6 596.7 736.8 612 738 621.5 739.2 627.1 740.4 627.5 741.6 622.7 742.8 624.8 743.9 620.4 745.1 623.4 746.3 618.9 747.5 624.5 748.7 628.6 749.9 630.1 751.1 627.3 752.3 623.8 753.5 621 754.7 626.9 755.9 619.7 757.1 628.1 758.3 623.9 759.5 623.1 760.7 627.8 761.9 628.4 763.1 626.6 764.2 620.4 765.4 626.4 766.6 621.5 767.8 618.9 769 601.1 770.2 576.3 771.4 548.3 772.6 551.7 773.8 552.4 775 572.8 776.2 595.5 777.4 620.9 778.6 621.3 779.8 613.2 781 620.8 782.2 626.2 783.4 624.8 784.5 627.6 785.7 626.4 786.9 623 788.1 628 789.3 624.5 790.5 624.9 791.7 625 792.9 618.7 794.1 622.3 795.3 620.9 796.5 629 797.7 617.4 798.9 621 800.1 616.1 801.3 622.7 802.5 619.8 803.6 613.5 804.8 614.6 806 616.2 807.2 624.7 808.4 607.5 809.6 554.1 810.8 513.9 812 472.6 813.2 455.3 814.4 493.8 815.6 568.8 816.8 587.8 818 621.8 819.2 614.4 820.4 613.9 821.6 611.1 822.8 624.3 823.9 625.1 825.1 623.2 826.3 618 827.5 621.5 828.7 627.8 829.9 624.9 831.1 628 832.3 620.3 833.5 625.7 834.7 628.4 835.9 623.4 837.1 623.3 838.3 620.8 839.5 627.4 840.7 627.5 841.9 626.7 843.1 621.4 844.2 619.4 845.4 630 846.6 627.6 847.8 620.3 849 592.6 850.2 582.5 851.4 558.7 852.6 531.2 853.8 555.4 855 585.5 856.2 608.3 857.4 621.4 858.6 617.3 859.8 626.9 861 618.4 862.2 625.3 863.3 629.2 864.5 632.7 865.7 624.4 866.9 621.8 868.1 627.2 869.3 624.9 870.5 629.4 871.7 620.7 872.9 626.4 874.1 629.7 875.3 626.3 876.5 623.7 877.7 625.6 878.9 628.5 880.1 626.6 881.3 629.3 882.5 628.5 883.6 633.9 884.8 627.9 886 630.2 887.2 625.9 888.4 620.9 889.6 620.4 890.8 619.9 892 613.8 893.2 617.5 894.4 619 895.6 625.8 896.8 622.4 898 618.2 899.2 629.3 900.4 628 901.6 628 902.8 626.2 903.9 630.2 905.1 628.3 906.3 624.5 907.5 630.8 908.7 629.3 909.9 631.1 911.1 631.3 912.3 630.7 913.5 624.1 914.7 624.5 915.9 629.4 917.1 625.6 918.3 627 919.5 630.5 920.7 626.5 921.9 620.7 923 628 924.2 627 925.4 623.2 926.6 622.3 927.8 622.9 929 628.6 930.2 626.4 931.4 628.4 769.1 515.8 770 520.6 767.6 525.4" fill="none" stroke="none" marker-start="url(#sq)" marker-mid="url(#sq)" marker-end="url(#sq)"/>
<path d="M534.3 629.2 534.8 625.1 535.4 624.7 535.9 626 536.5 625.5 537 629.2 537.5 625.1 538.1 630.2 538.6 629.1 539.1 626.5 539.7 629.7 540.2 629.4 540.8 625.6 541.3 629.8 541.8 631.6 542.4 629.3 542.9 620.6 543.4 625.5 544 631.4 544.5 627.3 545.1 635.5 545.6 628.9 546.1 632.5 546.7 627.3 547.2 631.6 547.7 632.5 548.3 630.2 548.8 627.4 549.4 627.1 549.9 632.9 550.4 625.1 551 636.3 551.5 633.3 552 627.5 552.6 631.1 553.1 628.9 553.7 628.8 554.2 628.3 554.7 628.7 555.3 635.8 555.8 634.2 556.3 627 556.9 622 557.4 633.8 557.9 625.5 558.5 633.2 559 631.2 559.6 626.3 560.1 631.1 560.6 632.9 561.2 632.7 561.7 626.2 562.2 631.4 562.8 624.7 563.3 627.9 563.9 620.1 564.4 623.1 564.9 624.4 565.5 631.8 566 629.7 566.5 625.3 567.1 630.2 567.6 631.4 568.2 635.3 568.7 628.5 569.2 627.5 569.8 627.4 570.3 623.7 570.8 618.4 571.4 621.4 571.9 624 572.5 612.3 573.5 617.4 574.1 617.9 574.6 612.5 576.2 622.1 576.8 621.4 577.3 620.6 577.8 622.5 578.4 622.8 578.9 627.7 579.4 631.9 580 625.4 580.5 624.7 581.1 628.2 581.6 630.7 582.1 622.1 582.7 631.6 583.2 628.4 583.7 626 584.3 626.2 584.8 624.2 585.4 631.1 585.9 626.2 586.4 625.8 587 629.6 587.5 624.1 588 627.3 588.6 631.9 589.1 626 589.7 625.8 590.2 624.2 590.7 627.4 591.3 624.8 591.8 629.9 592.3 632 592.9 627.6 593.4 633.4 593.9 633.4 594.5 620.7 595 630.9 595.6 625 596.1 629 596.6 630 597.2 624.4 597.7 621.2 598.2 623.3 598.8 634.4 599.3 635.4 599.9 626.3 600.4 627.1 600.9 621.9 601.5 622 602 625.9 602.5 631.7 603.1 627.2 603.6 636.9 604.2 631.6 604.7 633.4 605.2 618.2 605.8 622.9 606.3 623 606.8 626.3 607.4 626.6 607.9 621.6 608.5 633.3 609 614.2 610.6 598.2 612.2 560.2 613.3 552 613.8 559.3 614.4 560.6 615.4 562.5 616.5 595.5 618.7 620.5 619.2 632.5 619.7 624.5 620.3 628 620.8 623.9 621.4 619.8 621.9 620.1 622.4 620.7 623 623.9 623.5 627.1 624 632.8 624.6 624.6 625.1 627.7 625.6 627.5 626.2 627.9 626.7 621.7 627.3 628.4 627.8 626.1 628.3 623.1 628.9 622.6 629.4 627 629.9 624.2 630.5 632.7 631 627 631.6 634.4 632.1 625.6 632.6 629.4 633.2 622.2 633.7 628.7 634.2 625.4 634.8 625.9 635.3 627.6 635.9 629.6 636.4 629.4 636.9 619.4 637.5 621.5 638 626 638.5 621.5 639.1 623.4 639.6 623.2 640.2 621.2 640.7 623.2 641.2 627.7 641.8 628.1 642.3 632.1 642.8 630.9 643.4 615.5 643.9 622.7 646.1 604.1 646.6 618.3 647.1 631.3 647.7 624.2 648.2 620.3 648.8 618.8 650.9 542.1 651.4 493.2 652.5 488.7 656.3 556.4 657.9 610.2 658.4 616.4 659 620.6 659.5 623.8 660 621.6 661.6 622.3 662.2 616.4 662.7 627.2 663.3 622.7 663.8 623.6 664.3 632.9 664.9 623.5 665.4 623.7 665.9 625.6 666.5 624.4 667 626.3 667.6 622.4 668.1 624.5 668.6 627.8 669.2 619.7 669.7 621.6 670.2 620 670.8 628.1 671.3 624.4 671.9 628.3 672.4 623.2 672.9 623.9 673.5 630.2 674 619.1 674.5 621.5 675.1 627.8 675.6 624.3 676.2 625.3 676.7 633.3 677.2 623.3 677.8 619.7 678.3 618.5 678.8 616.3 679.4 623.9 679.9 625.1 680.5 620.4 681 629.7 681.5 620.1 682.1 628.8 682.6 625.7 683.1 624.8 683.7 624.2 684.2 623.3 684.8 624.3 685.3 621.3 685.8 625.5 686.4 616.9 686.9 633.4 687.4 624.7 688 618.1 688.5 611.7 690.1 603.9 692.8 556.3 693.9 542.4 694.4 567.6 695 571.3 696.6 612.1 697.1 608.9 697.6 615.4 698.2 623.6 698.7 620.5 699.3 624.5 699.8 628.2 700.3 618.1 700.9 623.4 701.4 626.9 701.9 619.9 702.5 618.6 703 633.9 703.6 633.8 704.1 626.5 704.6 626.2 705.2 625.8 705.7 617.6 706.2 619 706.8 626.5 707.3 623.6 707.9 623 708.4 621.5 708.9 625 709.5 627.7 710 619.5 710.5 626.8 711.1 627.9 711.6 630.8 712.2 632.1 712.7 633.4 713.2 622 713.8 625.3 714.3 627.2 714.8 623.8 715.4 629.7 715.9 628.2 716.5 630.5 717 624.9 717.5 628.4 718.1 622.7 718.6 628.7 719.1 617.9 719.7 631.2 720.2 622.5 720.8 627.7 721.3 632.7 721.8 628.7 722.4 633.8 722.9 633.9 723.4 628.4 724 624.6 724.5 623.1 725.1 621.4 725.6 624.1 726.1 622.3 726.7 624.9 727.2 625.1 727.7 625.7 728.3 617.9 728.8 623.8 729.3 618.9 731 583 733.6 574.3 734.2 575.1 735.8 601.4 736.3 609.8 736.9 619.8 737.4 626.1 737.9 629.6 738.5 624.7 739 625.6 739.6 623.2 740.1 627.4 740.6 622 741.2 627.4 741.7 617.4 742.2 620.8 742.8 628.7 743.3 631.7 743.9 628.8 744.4 626.2 744.9 624.3 745.5 627.1 746 629.1 746.5 627.2 747.1 628.6 747.6 627.3 748.2 626.1 748.7 628.9 749.2 627.8 749.8 627.5 750.3 624 750.8 625.2 751.4 631.8 751.9 631.4 752.5 633.4 753 632.5 753.5 625.7 754.1 629 754.6 630.7 755.1 626.3 755.7 629.3 756.2 626.3 756.8 625.1 757.3 631.3 757.8 634.8 758.4 630.2 758.9 625.8 759.4 627.9 760 623.7 760.5 626.9 761 628.4 761.6 621 762.1 631 762.7 626.5 763.2 624.5 763.7 621 764.3 625.5 764.8 624.4 765.3 623.7 765.9 620.8 766.4 621.9 767 624.8 767.5 624.6 768 626.3 768.6 623.1 770.7 572 771.3 567.7 772.3 547.9 772.9 553.4 773.9 547.7 774.5 562.7 775 573.7 775.6 576.8 776.1 601.4 777.2 621.2 777.7 620.9 778.2 623.4 778.8 626.5 779.3 621.5 779.9 626.3 780.4 615 780.9 624.8 781.5 619.2 782 616.8 782.5 626.9 783.1 619.5 783.6 626.3 784.2 624.7 784.7 629 785.2 629.3 785.8 622.8 786.3 619.9 786.8 624 787.4 626 787.9 625.2 788.5 624.2 789 626.4 789.5 630.5 790.1 625.8 790.6 627.4 791.1 633.8 791.7 625.8 792.2 620.9 792.8 625.4 793.3 621.2 793.8 625.5 794.4 630.4 794.9 627.3 795.4 631.4 796 626.2 796.5 618.7 797 624.6 797.6 626.2 798.1 618.3 798.7 619.1 799.2 624 799.7 625.2 800.3 630.3 800.8 624.9 801.3 625.6 801.9 624.2 802.4 619.2 803 620.9 804 610 806.2 624.6 806.7 615.6 807.3 629.4 807.8 615.8 808.3 601.2 808.9 595 809.9 552.8 810.5 521.3 811 457.3 812.1 446.3 812.6 431.9 813.2 469.4 815.3 586.3 815.9 560.9 816.9 610.2 817.5 622.6 818 627.9 818.5 630.3 819.1 620 819.6 618.1 820.7 611.8 821.2 612 821.8 626.3 822.3 617.2 822.8 627.8 823.4 629.3 823.9 625 824.5 624.2 825 622.1 825.5 618.9 826.1 629.2 826.6 621.6 827.1 624 827.7 631.7 828.2 623.1 828.7 632.5 829.3 622.4 829.8 626.8 830.4 631.3 830.9 634.2 831.4 623 832 629 832.5 620.6 833 635.5 833.6 618.3 834.1 627.2 834.7 627.1 835.2 634.2 835.7 624.1 836.3 628.7 836.8 632 837.3 618.8 837.9 625.3 838.4 626.9 839 624.9 839.5 628.8 840 628.5 840.6 617.7 841.1 619.7 841.6 627.4 842.2 631.2 842.7 628.5 843.3 626.1 843.8 621.3 844.3 622 844.9 616.8 845.4 622.5 845.9 632.4 846.5 629.9 847 634.1 847.6 619.9 849.7 590.5 850.8 556.7 851.3 554.3 853.5 544.2 855.6 595 857.2 623.4 857.8 620.4 858.3 625.8 858.8 628.8 859.4 621.2 859.9 622.8 860.4 622.7 861 621.5 861.5 629.3 862.1 620.6 862.6 623.9 863.1 619.2 863.7 628.6 864.2 626.8 864.7 636.1 865.3 625.8 865.8 622 866.4 624 866.9 625.5 867.4 631.5 868 624.6 868.5 619.7 869 630.6 869.6 622.8 870.1 632 870.7 626.9 871.2 635.6 871.7 622.4 872.3 625 872.8 624.3 873.3 623.2 873.9 629.6 874.4 626.6 875 636 875.5 627.4 876 630.8 876.6 626.8 877.1 624.5 877.6 623.2 878.2 624.7 878.7 624.2 879.3 631.9 879.8 629.6 880.3 629.8 880.9 634.2 881.4 623.8 881.9 624.1 882.5 632 883 625 883.6 626.8 884.1 627.6 884.6 622.5 885.2 623.4 885.7 620.7 886.2 627.6 886.8 631.3 887.3 633.5 887.9 625.2 888.4 621.5 888.9 624.8 889.5 617.8 891.1 617.1 891.6 613 892.7 618.4 893.2 616.1 894.3 625.8 895.4 621.6 895.9 625.2 896.4 628.6 897 625.6 897.5 622.2 898.1 634.6 898.6 632.8 899.1 628.1 899.7 625.3 900.2 622.7 900.7 625.1 901.3 628.1 901.8 630.2 902.4 625.9 902.9 633.1 903.4 629.1 904 627.8 904.5 628.7 905 627.8 905.6 621.5 906.1 627.4 906.7 625.9 907.2 631.2 907.7 625.3 908.3 627.8 908.8 628 909.3 632.7 909.9 631.3 910.4 633.5 911 625.2 911.5 628.5 912 631.1 912.6 633 913.1 629.7 913.6 630.9 914.2 627.2 914.7 629.4 915.3 626.3 915.8 628.9 916.3 634.1 916.9 629.7 917.4 619.1 917.9 633.3 918.5 629.1 919 626.3 919.6 618.9 920.1 632.4 920.6 626.7 921.2 632.1 921.7 626.5 922.2 626.3 922.8 627.3 923.3 624.6 923.9 627.1 924.4 633.4 924.9 628.2 925.5 628.2 926 625.6 926.5 631.3 927.1 628 927.6 630.2 928.1 629.7 928.7 631.3 929.2 627.8 929.8 631.1 930.3 627.9 930.8 626.7 931.4 634.8 931.9 623.5 693 520.3" fill="none" stroke="none" marker-start="url(#di)" marker-mid="url(#di)" marker-end="url(#di)"/>
</g>
<path d="M534 639v-5.5M534 350v5.5M573.8 639v-5.5M573.8 350v5.5M613.6 639v-5.5M613.6 350v5.5M653.4 639v-5.5M653.4 350v5.5M693.2 639v-5.5M693.2 350v5.5M733 639v-5.5M733 350v5.5M772.8 639v-5.5M772.8 350v5.5M812.6 639v-5.5M812.6 350v5.5M852.4 639v-5.5M852.4 350v5.5M892.2 639v-5.5M892.2 350v5.5M932 639v-5.5M932 350v5.5M534 628.5h5.5M932 628.5h-5.5M534 535.7h5.5M932 535.7h-5.5M534 442.8h5.5M932 442.8h-5.5M534 350h5.5M932 350h-5.5" stroke="#000" stroke-width="1.5" fill="none"/>
<rect x="534" y="350" width="398" height="289" fill="none" stroke="#000" stroke-width="1.8"/>
<g clip-path="url(#cpe)">
<path d="M77 969.4 80.9 969.4 81.2 969.2 89.6 969.3 92.1 969.1 94.5 969.3 96.6 969 97.6 968.9 99.4 969.3 100.1 969.4 100.8 969.3 101.9 968.8 102.6 968.5 103.2 968.4 104 968.6 104.7 969 105.3 969.3 105.7 969.4 106.1 969.3 106.4 969.1 106.8 968.8 107.1 968.4 107.4 967.9 107.8 967.4 108.2 967 108.5 966.7 108.8 966.6 109.2 966.7 109.5 967 109.9 967.5 110.2 968.1 110.6 968.7 110.9 969.2 111.3 969.3 111.6 969 112 968.1 112.4 966.4 112.7 963.8 113 960.3 113.4 956 113.8 950.9 114.1 945.2 114.5 939.2 114.8 933.2 115.1 927.4 115.5 922.3 115.8 918 116.2 914.9 116.6 913.1 116.9 912.8 117.2 914 117.6 916.5 117.9 920.3 118.3 925.1 118.7 930.7 119 936.6 119.3 942.7 119.7 948.5 120.1 953.9 120.4 958.5 120.8 962.4 121.1 965 121.4 967.1 121.8 968.5 122.2 969.1 122.5 969.2 122.8 968.9 123.2 968.4 123.5 967.8 123.9 967.2 124.2 966.7 124.6 966.4 124.9 966.3 125.3 966.5 125.7 966.8 126 967.2 126.3 967.7 126.7 968.1 127 968.6 127.4 968.9 127.8 969.1 128.1 969.2 128.4 969.2 129.1 968.8 129.8 968.3 130.6 967.9 130.9 967.8 131.2 967.8 131.9 968.1 132.7 968.6 133.3 969.1 133.7 969.2 134.1 969.3 134.4 969.2 135.1 968.8 135.8 968.3 136.5 967.8 136.8 967.7 137.2 967.7 137.6 967.8 138.2 968.3 138.6 968.6 139.3 969.1 139.7 969.3 140 969.3 140.3 969.1 140.7 968.8 141 968.4 141.4 967.9 141.8 967.4 142.1 967 142.4 966.7 142.8 966.6 143.1 966.6 143.5 966.9 143.8 967.3 144.2 967.9 144.6 968.4 144.9 968.9 145.2 969.2 145.6 969.3 145.9 969 146.3 968.3 146.6 967.4 147 966.2 147.3 964.9 147.7 963.6 148.1 962.6 148.4 961.9 148.8 961.8 149.1 962.2 149.4 963.2 149.8 964.7 150.2 966.4 150.5 967.9 150.8 969.1 151.2 969.2 151.6 968 151.9 965 152.2 959.9 152.6 952.5 152.9 942.8 153.3 930.7 153.6 916.7 154 901.4 154.3 885.3 154.7 869.4 155 854.4 155.4 841.3 155.8 830.7 156.1 823.4 156.4 819.8 156.8 820.1 157.1 824.2 157.5 832.1 157.8 843 158.2 856.5 158.6 871.6 158.9 887.6 159.2 903.6 159.6 918.8 159.9 932.6 160.3 944.3 160.6 953.5 161 960.6 161.3 965.4 161.7 968.2 162.1 969.2 162.4 968.9 162.8 967.7 163.1 966.1 163.4 964.4 163.8 963 164.1 962 164.5 961.6 164.8 961.8 165.2 962.4 165.6 963.5 165.9 964.7 166.2 966.1 166.6 967.3 166.9 968.2 167.3 968.9 167.6 969.2 168 969.2 168.3 968.9 168.7 968.4 169.1 967.8 169.4 967.2 169.8 966.7 170.1 966.4 170.4 966.2 170.8 966.3 171.2 966.6 171.5 967 171.8 967.5 172.2 968.1 172.6 968.5 172.9 968.9 173.2 969.1 173.6 969.2 173.9 969.1 174.3 968.9 174.6 968.5 175 968.1 175.3 967.7 175.7 967.4 176.1 967.2 176.4 967.1 176.8 967.1 177.1 967.3 177.8 967.9 178.2 968.3 178.5 968.7 178.8 969 179.2 969.2 179.6 969.2 179.9 969 180.2 968.7 180.6 968.3 180.9 967.8 181.3 967.3 181.6 966.9 182 966.5 182.3 966.4 182.7 966.4 183.1 966.6 183.4 967 183.8 967.5 184.1 968.1 184.4 968.6 184.8 969 185.1 969.2 185.5 969.1 185.9 968.6 186.2 967.9 186.6 966.8 186.9 965.6 187.2 964.4 187.6 963.2 187.9 962.4 188.3 961.9 188.6 962 189 962.7 189.3 963.8 189.7 965.3 190.1 967 190.4 968.4 190.8 969.2 191.1 969 191.4 967.3 191.8 963.8 192.1 958.2 192.5 950.8 192.9 940.7 193.2 928.6 193.5 914.7 193.9 899.8 194.2 884.3 194.6 869.2 194.9 855.3 195.3 843.3 195.6 834 196 828 196.3 825.6 196.7 826.9 197.1 832 197.4 840.4 197.8 851.6 198.1 865.1 198.4 879.9 198.8 895.4 199.1 910.6 199.5 924.8 199.8 937.5 200.2 948.1 200.6 956.6 200.9 962.8 201.2 966.8 201.6 968.8 201.9 969.3 202.3 968.7 202.6 967.4 203 965.8 203.3 964.3 203.7 963.1 204.1 962.3 204.4 962.2 204.8 962.6 205.1 963.4 205.4 964.5 205.8 965.8 206.2 967 206.5 968 206.8 968.8 207.2 969.2 207.5 969.3 207.9 969.2 208.2 968.8 208.6 968.3 208.9 967.7 209.3 967.3 209.7 967 210 966.8 210.3 966.9 210.7 967.2 211 967.5 211.4 968 211.8 968.4 212.1 968.8 212.4 969.1 212.8 969.3 213.1 969.3 213.5 969.3 214.2 968.8 214.9 968.3 215.2 968.2 215.6 968.1 215.9 968.1 216.6 968.4 217.3 968.9 218 969.3 218.8 969.3 219.4 969.2 220.1 968.9 220.8 968.6 221.5 968.6 222.6 968.9 223.6 969.3 224.3 969.3 225.8 969 226.8 968.8 228.5 969.2 229.6 969.3 231.7 969 232 969 232.4 969.4 240.1 969.4 240.4 969 242.2 969.3 243.2 969.3 244.6 969 245.7 968.9 247.4 969.2 248.1 969.3 248.9 969.3 249.9 968.9 250.6 968.7 251.3 968.6 252.3 968.9 253.4 969.3 254.1 969.3 254.8 969 255.5 968.6 256.2 968.2 256.5 968.1 256.9 968.1 257.2 968.2 257.9 968.6 258.6 969.1 259 969.3 259.4 969.4 259.7 969.3 260 969.1 260.4 968.8 260.8 968.3 261.1 967.9 261.4 967.5 261.8 967.1 262.1 967 262.5 966.9 262.9 967.1 263.2 967.5 263.5 967.9 263.9 968.4 264.2 968.9 264.6 969.2 265 969.3 265.3 969.2 265.6 968.6 266 967.8 266.4 966.8 266.7 965.5 267 964.4 267.4 963.3 267.8 962.6 268.1 962.4 268.4 962.7 268.8 963.5 269.1 964.8 269.5 966.4 269.9 967.9 270.2 969 270.5 969.3 270.9 968.4 271.2 965.9 271.6 961.5 271.9 954.8 272.3 946 272.6 935 273 922.2 273.4 908.1 273.7 893.2 274 878.3 274.4 864.1 274.8 851.6 275.1 841.4 275.4 834.1 275.8 830.2 276.1 830 276.5 833.3 276.9 840.2 277.2 850 277.5 862.2 277.9 876.2 278.2 891 278.6 906 279 920.3 279.3 933.3 279.6 944.5 280 953.7 280.3 960.6 280.7 965.4 281 968.2 281.4 969.3 281.8 969.1 282.1 968.1 282.4 966.6 282.8 965 283.1 963.7 283.5 962.8 283.9 962.4 284.2 962.6 284.5 963.2 284.9 964.2 285.2 965.4 285.6 966.6 285.9 967.7 286.3 968.5 286.6 969.1 287 969.3 287.4 969.3 287.7 969 288 968.5 288.4 968 288.8 967.5 289.1 967.2 289.4 967 289.8 966.9 290.1 967.1 290.5 967.4 290.9 967.8 291.2 968.3 291.5 968.7 291.9 969 292.2 969.3 292.6 969.3 292.9 969.3 293.6 968.9 294.3 968.4 294.7 968.2 295.1 968.1 295.4 968.1 296.1 968.4 296.8 968.8 297.5 969.2 298.2 969.4 298.9 969.2 299.9 968.8 300.6 968.6 301.4 968.7 302.4 969 303.4 969.3 304.1 969.3 305.5 969 306.6 968.9 308.4 969.2 309.4 969.3 311.5 969 311.9 969.4 319.5 969.4 319.9 969 321.6 969.3 322.7 969.3 324.1 969 325.1 968.8 326.9 969.2 327.6 969.3 328.3 969.3 329.4 969 330.4 968.6 331.1 968.6 332.1 969 332.9 969.3 333.6 969.3 334.2 969.1 334.9 968.7 335.6 968.2 336 968.1 336.3 968.1 336.7 968.1 337.4 968.5 338.1 969 338.4 969.2 338.8 969.3 339.1 969.3 339.5 969.2 339.8 968.9 340.2 968.5 340.6 968 340.9 967.6 341.2 967.2 341.6 966.9 341.9 966.8 342.3 966.9 342.6 967.2 343 967.6 343.3 968.2 343.7 968.7 344.1 969.1 344.4 969.3 344.8 969.3 345.1 968.9 345.4 968.2 345.8 967.2 346.1 965.9 346.5 964.7 346.8 963.5 347.2 962.6 347.5 962.2 347.9 962.2 348.2 962.9 348.6 964 348.9 965.5 349.3 967.2 349.6 968.6 350 969.3 350.3 969 350.7 967.2 351 963.4 351.4 957.6 351.8 949.4 352.1 938.9 352.4 926.4 352.8 912.3 353.1 897.1 353.5 881.6 353.8 866.5 354.2 852.7 354.5 841 354.9 832.1 355.2 826.5 355.6 824.6 355.9 826.5 356.3 832.1 356.6 841 357 852.7 357.3 866.5 357.7 881.6 358 897.1 358.4 912.3 358.8 926.4 359.1 938.9 359.4 949.4 359.8 957.2 360.1 963.1 360.5 966.9 360.8 968.8 361.2 969.2 361.5 968.5 361.9 967.2 362.2 965.5 362.6 964 362.9 962.8 363.3 962 363.6 961.9 364 962.2 364.3 963 364.7 964.2 365 965.4 365.4 966.7 365.8 967.7 366.1 968.6 366.4 969.1 366.8 969.2 367.1 969.1 367.5 968.7 367.8 968.2 368.2 967.6 368.5 967 368.9 966.6 369.2 966.4 369.6 966.3 369.9 966.5 370.3 966.8 370.6 967.2 371 967.8 371.3 968.3 371.7 968.7 372 969 372.4 969.2 372.8 969.2 373.1 969 373.4 968.7 373.8 968.4 374.1 968 374.5 967.6 374.8 967.3 375.2 967.1 375.5 967.1 375.9 967.1 376.2 967.4 376.6 967.7 376.9 968.1 377.3 968.5 377.6 968.8 378 969.1 378.3 969.2 378.7 969.1 379 968.9 379.4 968.6 379.8 968.1 380.1 967.6 380.4 967.1 380.8 966.7 381.1 966.4 381.5 966.2 381.8 966.3 382.2 966.6 382.5 967.1 382.9 967.7 383.2 968.3 383.6 968.8 383.9 969.1 384.3 969.2 384.6 968.9 385 968.3 385.3 967.4 385.7 966.2 386 964.9 386.4 963.7 386.8 962.6 387.1 961.8 387.4 961.6 387.8 961.9 388.1 962.8 388.5 964.2 388.8 965.9 389.2 967.5 389.5 968.8 389.9 969.2 390.2 968.4 390.6 965.9 390.9 961.4 391.3 954.6 391.6 945.8 392 934.4 392.3 920.9 392.7 905.9 393 889.9 393.4 873.9 393.8 858.6 394.1 844.8 394.4 833.4 394.8 825.1 395.1 820.4 395.5 819.6 395.8 822.7 396.2 829.5 396.5 839.6 396.9 852.4 397.2 867.2 397.6 883 397.9 899.1 398.3 914.6 398.6 928.8 399 941.2 399.3 951.3 399.7 959 400 964.5 400.4 967.7 400.8 969.2 401.1 969.2 401.4 968.1 401.8 966.6 402.1 964.9 402.5 963.4 402.8 962.3 403.2 961.8 403.5 961.9 403.9 962.5 404.2 963.4 404.6 964.7 404.9 966 405.3 967.2 405.6 968.2 406 968.9 406.3 969.3 406.7 969.3 407 969 407.4 968.5 407.8 968 408.1 967.4 408.4 967 408.8 966.7 409.1 966.6 409.5 966.7 409.8 966.9 410.2 967.4 410.5 967.8 410.9 968.3 411.2 968.8 411.6 969.1 411.9 969.2 412.3 969.3 412.6 969.2 413.3 968.6 413.7 968.3 414.4 967.8 414.8 967.7 415.1 967.7 415.4 967.8 416.1 968.3 416.8 968.8 417.5 969.2 417.9 969.3 418.3 969.2 418.9 968.9 419.6 968.4 420.3 968 420.7 967.8 421 967.8 421.4 967.9 422.1 968.3 422.8 968.8 423.5 969.2 423.9 969.2 424.2 969.2 424.6 969 424.9 968.6 425.2 968.2 425.6 967.7 425.9 967.2 426.3 966.8 426.6 966.5 427 966.3 427.3 966.4 427.7 966.6 428 967.1 428.4 967.7 428.8 968.3 429.1 968.9 429.4 969.2 429.8 969.2 430.1 968.6 430.5 967.4 430.8 965.4 431.2 962.5 431.5 959.1 431.9 954.6 432.2 949.3 432.6 943.5 432.9 937.5 433.3 931.5 433.6 925.9 434 921 434.3 917 434.7 914.3 435 912.9 435.4 913 435.8 914.6 436.1 917.5 436.4 921.6 436.8 926.7 437.1 932.3 437.5 938.4 437.8 944.4 438.2 950.1 438.5 955.3 438.9 959.7 439.2 963.3 439.6 966 439.9 967.9 440.3 968.9 440.6 969.3 441 969.2 441.3 968.8 441.7 968.2 442 967.6 442.4 967.1 442.8 966.8 443.1 966.6 443.4 966.7 443.8 967 444.1 967.4 444.5 967.8 444.8 968.3 445.2 968.7 445.5 969.1 445.9 969.3 446.2 969.3 446.6 969.3 447.3 969 448 968.6 448.7 968.4 449.4 968.5 450.5 969 451.2 969.2 451.9 969.4 453.6 969 454.6 968.9 456.4 969.2 457.4 969.4 460.2 969.1 463 969.4 466.2 969.2 470.8 969.2 471.1 969.4 474.9 969.4" stroke="#000" stroke-width="2" fill="none" stroke-linejoin="round"/>
<path d="M77.5 970.3 78.7 959.1 79.9 962.8 81.1 970.4 82.2 973.9 83.4 969.7 84.6 968.7 85.8 970.4 87 960.5 88.2 967.3 89.4 961.8 90.6 970.6 91.8 965.7 93 971.1 94.2 965.7 95.4 962.2 96.6 964.1 97.8 966.4 99 970.3 100.2 968.3 101.3 973.6 102.5 974.9 103.7 964.9 104.9 976.9 106.1 966.3 107.3 968.5 108.5 962 109.7 975 110.9 965.7 112.1 965.9 113.3 956.1 114.5 945 115.7 915.8 116.9 920.5 118.1 921.4 119.3 939.8 120.5 958.9 121.6 968.2 122.8 958.2 124 957.5 125.2 964.6 126.4 965.4 127.6 967.9 128.8 962.8 130 964.4 131.2 973.6 132.4 963.2 133.6 962.8 134.8 960.9 136 967.7 137.2 962.4 138.4 966.9 139.6 969.3 140.8 963.6 141.9 957.5 143.1 962.6 144.3 968.7 145.5 963.3 146.7 963.9 147.9 959.9 149.1 949.2 150.3 963.2 151.5 959.3 152.7 953.6 153.9 908.3 155.1 874.3 156.3 847.8 157.5 840.8 158.7 902.6 159.9 924.8 161 944.2 162.2 967.3 163.4 955.4 164.6 966.7 165.8 960.3 167 965 168.2 968.6 169.4 956.3 170.6 962.3 171.8 965 173 967.4 174.2 960.9 175.4 967.3 176.6 962 177.8 970.2 179 964.7 180.2 962.8 181.3 963.9 182.5 965.8 183.7 960.7 184.9 966.9 186.1 967.2 187.3 958.7 188.5 956.4 189.7 961.7 190.9 965.9 192.1 951.2 193.3 924.4 194.5 896.5 195.7 859.1 196.9 857 198.1 872 199.3 920.8 200.5 939.8 201.6 954 202.8 957.1 204 949.6 205.2 964.3 206.4 965.4 207.6 967.3 208.8 960.8 210 962 211.2 957.3 212.4 963.7 213.6 970.7 214.8 972.1 216 966.7 217.2 967.5 218.4 967.5 219.6 968.7 220.7 964.1 221.9 969 223.1 965.9 224.3 966.9 225.5 967.5 226.7 966.3 227.9 968.6 229.1 969.8 230.3 972.7 231.5 969.7 232.7 968 233.9 970.6 235.1 967.5 236.3 968.2 237.5 966.2 238.7 967.4 239.9 969.4 241 967.6 242.2 966.6 243.4 968 244.6 966.8 245.8 963.1 247 970.8 248.2 967.7 249.4 969.2 250.6 964.3 251.8 966 253 971.4 254.2 968.9 255.4 965.9 256.6 968.9 257.8 968.2 259 967 260.2 967.8 261.3 960.7 262.5 962.1 263.7 963.6 264.9 965.8 266.1 964.1 267.3 956.5 268.5 965.5 269.7 965.3 270.9 960.9 272.1 947.7 273.3 922.1 274.5 871.8 275.7 846.6 276.9 833.7 278.1 882.4 279.3 919.6 280.4 961.1 281.6 960.7 282.8 956.2 284 958 285.2 966.4 286.4 965.5 287.6 960.4 288.8 965.9 290 958.8 291.2 963.2 292.4 966.7 293.6 969.5 294.8 964.1 296 966.9 297.2 965.9 298.4 973.2 299.6 969.6 300.7 962.7 301.9 964.1 303.1 969.8 304.3 967.6 305.5 964.1 306.7 968.5 307.9 968.8 309.1 970.8 310.3 957.6 311.5 964.8 312.7 965 313.9 971.4 315.1 959 316.3 965 317.5 969.9 318.7 968 319.9 965.3 321 963 322.2 966.9 323.4 961.2 324.6 968.1 325.8 963.8 327 967.4 328.2 968.8 329.4 966.5 330.6 964.7 331.8 964 333 964.6 334.2 968.3 335.4 964.8 336.6 967.8 337.8 965.7 339 965.3 340.1 970.8 341.3 967.7 342.5 964.9 343.7 964.9 344.9 961.9 346.1 959.1 347.3 956 348.5 962.5 349.7 959.4 350.9 953.5 352.1 929.8 353.3 889.4 354.5 872.3 355.7 836.5 356.9 858.8 358.1 895.2 359.3 940.8 360.4 965.1 361.6 961.2 362.8 956.8 364 957.4 365.2 956.7 366.4 972.3 367.6 958.8 368.8 965.3 370 961.7 371.2 966.7 372.4 969 373.6 965.7 374.8 965.1 376 961.2 377.2 970.7 378.4 965.3 379.6 966.5 380.7 960.8 381.9 963.3 383.1 966.1 384.3 974.4 385.5 963.8 386.7 963.3 387.9 956.3 389.1 959 390.3 954 391.5 937.4 392.7 913.9 393.9 868.3 395.1 822.7 396.3 847.1 397.5 865.9 398.7 921.2 399.8 958.2 401 971.5 402.2 954.1 403.4 955.4 404.6 961.5 405.8 962.5 407 968.6 408.2 965.2 409.4 965.2 410.6 964.1 411.8 964.1 413 967.1 414.2 968.5 415.4 969.4 416.6 965.9 417.8 965.2 419 960.3 420.1 966.6 421.3 969.3 422.5 963.8 423.7 964.5 424.9 969 426.1 964.7 427.3 963.7 428.5 966.2 429.7 967.8 430.9 963.8 432.1 950.6 433.3 937.2 434.5 925.6 435.7 919.6 436.9 914.3 438.1 942.1 439.3 957 440.4 966.2 441.6 962.8 442.8 966.1 444 961.2 445.2 967.6 446.4 965.4 447.6 964 448.8 965.7 450 969.6 451.2 972.6 452.4 969.2 453.6 972.3 454.8 967.2 456 969 457.2 961 458.4 961.5 459.5 967 460.7 964.7 461.9 965.4 463.1 968.3 464.3 968.4 465.5 965.9 466.7 964.6 467.9 964.9 469.1 969.1 470.3 966.5 471.5 964.9 472.7 966.3 473.9 966.3 356.3 811.3 358 816.4" fill="none" stroke="none" marker-start="url(#sq)" marker-mid="url(#sq)" marker-end="url(#sq)"/>
<path d="M77.1 969.7 77.6 968.6 78.2 968.8 78.7 966.9 79.2 971.1 79.8 965.9 80.3 967.5 80.8 968.7 81.4 969.5 81.9 976.9 82.5 963.3 83 970.3 83.5 966.5 84.1 962.5 84.6 968.8 85.1 968.8 85.7 969.5 86.2 972.6 86.7 968 87.3 971.4 87.8 972.4 88.4 966.3 88.9 971.2 89.4 970.4 90 971.5 90.5 971.7 91 967.8 91.6 967.9 92.1 972.6 92.7 968.6 93.2 971.1 93.7 970.9 94.3 971.8 94.8 969.2 95.3 967.4 95.9 976.1 96.4 968.6 97 971.3 97.5 969.6 98 968.8 98.6 967.6 99.1 976.6 99.6 974.1 100.2 972.1 100.7 967.7 101.3 969.3 101.8 973.3 102.3 959.6 102.9 967 103.4 970.5 103.9 967.2 104.5 970.1 105 962.6 105.6 970.1 106.1 969.5 106.6 968.6 107.2 964.4 107.7 970.5 108.2 965.5 108.8 969.7 109.3 970.4 109.9 962.9 110.4 961.2 110.9 967.3 111.5 961 112 961.3 112.5 962 113.6 950.5 114.2 936.8 114.7 939.5 115.2 926.6 115.8 926.6 117.4 918.1 118.5 931.2 121.1 963.5 121.7 965.4 122.2 976.4 122.7 963.7 123.3 965.3 123.8 965.1 124.4 965.4 124.9 958.9 125.4 972.8 126 971.2 126.5 968.8 127 962 127.6 968.7 128.1 968.4 128.7 964.5 129.2 971.2 129.7 972.7 130.3 959.6 130.8 969.3 131.3 968 131.9 971.9 132.4 967.1 133 962.2 133.5 967.1 134 968.3 134.6 958.4 135.1 967.6 135.6 966.4 136.2 970.3 136.7 968.3 137.3 965.9 137.8 965 138.3 968.3 138.9 958.6 139.4 962.3 139.9 969.6 140.5 966 141 968.4 141.6 962.9 142.1 964.5 142.6 963.5 143.2 970.9 143.7 961.7 144.2 967.8 144.8 970.6 145.3 967.9 145.9 964.9 146.4 965.6 146.9 963.7 147.5 957 148.5 958.6 149.1 957.7 149.6 972.9 150.2 963.1 150.7 966.2 151.2 960.7 151.8 962.7 152.8 943.9 153.4 929.3 153.9 907.2 155 868.2 156.1 855 156.6 838.5 157.1 831.3 158.2 877.1 158.7 872.6 159.3 907.8 160.9 951.1 161.4 958.2 162 969.9 162.5 963.6 163 965.8 163.6 961 165.7 962.2 166.3 963.1 166.8 966.6 167.3 967.3 167.9 961.6 168.4 966.1 169 972.6 169.5 963.8 170 965.8 170.6 964 171.1 969 171.6 961 172.2 969.4 172.7 970.3 173.3 969.5 173.8 970.8 174.3 972.6 174.9 966.3 175.4 966.1 175.9 969.1 176.5 969.5 177 970.6 177.6 969 178.1 969.7 178.6 962.7 179.2 968.8 179.7 968 180.2 972.1 180.8 968.5 181.3 968.4 181.9 967.7 182.4 971.3 182.9 968.4 183.5 962.3 184 965.2 184.5 965.4 185.1 973 185.6 971.5 186.2 971.8 186.7 968.4 187.2 963.4 188.3 963.6 189.4 957.6 189.9 964.8 190.4 966.1 191 959.9 191.5 959 194.2 909.5 194.7 875.7 198 864.9 198.5 877.9 199.6 921.7 200.1 946.6 201.2 968.7 201.7 957.3 202.3 959.7 202.8 955.6 203.3 962.2 203.9 958.7 205 967.1 205.5 958.8 206 962.8 206.6 969.8 207.1 967.1 207.6 964.9 208.2 965.5 208.7 967 209.3 969 209.8 967.3 210.3 968.7 210.9 971.3 211.4 961 211.9 965.9 212.5 973.1 213 968.5 213.6 969.8 214.1 972.4 214.6 970.5 215.2 968.1 215.7 970.3 216.2 971.1 216.8 972.4 217.3 973.6 217.9 971.4 218.4 965.7 218.9 968.8 219.5 971.1 220 972.9 220.5 972.7 221.1 972.7 221.6 971 222.1 969.2 222.7 963.9 223.2 974.9 223.8 967.9 224.3 970.1 224.8 974.4 225.4 968.3 225.9 966.8 226.4 970.6 227 974.4 227.5 970.8 228.1 972.2 228.6 968.8 229.1 968.6 229.7 966.3 230.2 971.3 230.7 973.7 231.3 971 231.8 963.3 232.4 971.1 232.9 969.3 233.4 964.9 234 966.4 234.5 967.9 235 970.4 235.6 966.1 236.1 969.4 236.7 970.9 237.2 961 237.7 962.1 238.3 970.6 238.8 973.4 239.3 971.3 239.9 971.8 240.4 969.6 241 964.3 241.5 968.7 242 971.5 242.6 968.9 243.1 970.1 243.6 965.1 244.2 966.8 244.7 966.4 245.3 970.5 245.8 969.1 246.3 970.2 246.9 971.1 247.4 968.4 247.9 973.4 248.5 966.9 249 969.7 249.6 965.1 250.1 967.8 250.6 965.3 251.2 967.7 251.7 973.8 252.2 964.9 252.8 969.9 253.3 972 253.9 969.4 254.4 966.6 254.9 969 255.5 963.6 256 961.7 256.5 971.9 257.1 968.7 257.6 970.6 258.1 973.5 258.7 966.4 259.2 969.7 259.8 969.3 260.3 965.6 260.8 972.3 261.4 965 261.9 967.2 262.4 969.5 263 967.6 263.5 968 264.1 967.1 264.6 966.6 265.1 968 265.7 972.8 266.2 968.8 266.7 961 268.9 959.1 269.4 960.9 270 968.7 270.5 972.8 271 964 272.7 932.9 273.2 920.3 273.7 894 274.8 856.9 276.4 862.1 280.7 954.4 281.3 968.5 281.8 962 282.3 973.1 282.9 961.4 285 955.3 285.6 961.8 286.1 966.8 286.6 973.5 287.2 967.5 287.7 967.9 288.2 965.3 288.8 975.6 289.3 958.9 289.8 966.6 290.4 971.3 290.9 962.9 291.5 961.6 292 959.9 292.5 975.3 293.1 967.8 293.6 967.6 294.1 968.6 294.7 960.6 295.2 972.1 295.8 970.1 296.3 969.7 296.8 963.9 297.4 970.6 297.9 969.7 298.4 969.6 299 972.9 299.5 967.9 300.1 973 300.6 967.3 301.1 968.9 301.7 970.7 302.2 971 302.7 964.9 303.3 971.1 303.8 967 304.4 972.6 304.9 973.4 305.4 969.2 306 968.9 306.5 968.6 307 970.4 307.6 968.2 308.1 967.7 308.7 964.9 309.2 971.3 309.7 971.3 310.3 963.5 310.8 965.5 311.3 966.8 311.9 966.9 312.4 962.9 313 958.5 313.5 965.2 314 966.3 314.6 968.8 315.1 969.4 315.6 963.6 316.2 968.9 316.7 968.5 317.3 972.7 317.8 965.1 318.3 968.8 318.9 968.9 319.4 969.6 319.9 971.2 320.5 970.3 321 964.1 321.6 972.4 322.1 969.3 322.6 968.5 323.2 967 323.7 965.9 324.2 967.7 324.8 975.6 325.3 963.8 325.8 970 326.4 970.2 326.9 971.2 327.5 973.3 328 970 328.5 968 329.1 961.4 329.6 971.8 330.1 969 330.7 975.4 331.2 968.4 331.8 973.6 332.3 967.6 332.8 965.7 333.4 974.3 333.9 974.7 334.4 969 335 972.9 335.5 965 336.1 967.3 336.6 967.6 337.1 966.5 337.7 966.2 338.2 965.6 338.7 970.6 339.3 968.8 339.8 969.9 340.4 964.5 340.9 965.3 341.4 966.5 342 976.4 342.5 965.8 343 970.5 343.6 964.3 344.1 973 344.7 965.8 345.2 963.8 345.7 960.5 346.3 964.3 346.8 960.3 347.3 962 347.9 964.2 348.4 970.8 349 960.6 349.5 960.4 350 970.3 350.6 966.4 351.1 953 352.2 933.8 353.8 857.5 354.9 848.9 355.4 848.3 356.5 851.1 357 869.3 357.5 884.2 358.6 919.1 359.2 936.6 360.2 955.1 360.8 964.2 361.3 962.5 361.8 969.3 362.4 968.9 362.9 958.4 364.5 955.2 365.1 959.2 365.6 962.2 366.1 967.9 366.7 969.4 367.2 958.3 367.8 962.6 368.3 970.1 368.8 955.6 369.4 965.1 369.9 967.1 370.4 960.7 371 967 371.5 971.1 372.1 967.6 372.6 968.4 373.1 971.3 373.7 966.1 374.2 965 374.7 964.4 375.3 969 375.8 965.7 376.4 970.6 376.9 963.6 377.4 967 378 965.7 378.5 970.6 379 967.6 379.6 969.8 380.1 964.5 380.7 969.7 381.2 969 381.7 962.8 382.3 966.1 382.8 962.9 383.3 968.2 383.9 965.4 384.4 967.9 385 976.3 385.5 966.2 386 965.2 386.6 959.4 387.6 957.9 388.2 952.7 388.7 962.1 389.2 956.3 389.8 970 390.3 960.4 390.9 962.4 391.9 939.2 392.5 931.5 394.1 864.8 394.6 829.7 395.2 833.9 396.2 844.9 397.3 872.9 397.8 901.8 398.9 938.1 400 971.3 400.5 965.4 401.1 971.3 401.6 959.2 402.1 963.9 403.8 959.2 404.8 964.7 405.4 965.1 405.9 972 406.4 971.3 407 970.4 407.5 970.3 408.1 962 408.6 964.4 409.1 965.9 409.7 966.5 410.2 965.6 410.7 963.8 411.3 961.1 411.8 969.8 412.4 970.2 412.9 973.7 413.4 964.4 414 973.5 414.5 971.3 415 963.1 415.6 966.2 416.1 969.7 416.7 965.8 417.2 967.2 417.7 961.1 418.3 966.9 418.8 969.1 419.3 967 419.9 970.2 420.4 972 421 968.8 421.5 970.7 422 967.7 422.6 963.2 423.1 967.5 423.6 972 424.2 968 424.7 963.3 425.2 967 425.8 969.5 426.3 958.1 426.9 965.2 427.4 967 427.9 962.9 428.5 966.9 429 973.2 429.5 959.8 430.1 967.7 430.6 967.4 431.2 970.8 432.8 945 433.3 925.3 436 930.2 436.5 924.4 437.6 944.7 439.2 955 439.8 963.3 440.3 964.6 440.8 969.4 441.4 971.1 441.9 963.1 442.4 967.2 443 954.3 443.5 965.1 444.1 961.5 444.6 976.7 445.1 966.1 445.7 967.4 446.2 967 446.7 969.8 447.3 955.4 447.8 970.8 448.4 970 448.9 966.6 449.4 970.9 450 970.4 450.5 971.8 451 976.1 451.6 971.9 452.1 966.7 452.7 969.9 453.2 965.4 453.7 967.9 454.3 967.2 454.8 967.1 455.3 966.3 455.9 974.8 456.4 969.7 456.9 968.9 457.5 964.1 458 966.9 458.6 971.9 459.1 967 459.6 969.3 460.2 968.6 460.7 967.1 461.2 966.2 461.8 967.3 462.3 969.7 462.9 967.4 463.4 965.9 463.9 967.8 464.5 965.6 465 966.3 465.5 976.5 466.1 969 466.6 965.7 467.2 971.9 467.7 966.6 468.2 969.7 468.8 965.2 469.3 973.1 469.8 971.4 470.4 971 470.9 965.1 471.5 969.9 472 970.1 472.5 966.5 473.1 966.5 473.6 968.6 474.1 971.3 474.7 965.7" fill="none" stroke="none" marker-start="url(#di)" marker-mid="url(#di)" marker-end="url(#di)"/>
</g>
<path d="M77 979v-5.5M77 691v5.5M116.8 979v-5.5M116.8 691v5.5M156.6 979v-5.5M156.6 691v5.5M196.4 979v-5.5M196.4 691v5.5M236.2 979v-5.5M236.2 691v5.5M276 979v-5.5M276 691v5.5M315.8 979v-5.5M315.8 691v5.5M355.6 979v-5.5M355.6 691v5.5M395.4 979v-5.5M395.4 691v5.5M435.2 979v-5.5M435.2 691v5.5M475 979v-5.5M475 691v5.5M77 969.4h5.5M475 969.4h-5.5M77 876.6h5.5M475 876.6h-5.5M77 783.8h5.5M475 783.8h-5.5M77 691h5.5M475 691h-5.5" stroke="#000" stroke-width="1.5" fill="none"/>
<rect x="77" y="691" width="398" height="288" fill="none" stroke="#000" stroke-width="1.8"/>
<g clip-path="url(#cpf)">
<path d="M534 974.7 703.1 974.7 714.5 975.4 715.6 972.6 716.7 975.4 718 975.4 719.1 969 720.2 975.4 721.5 975.4 722.6 963 723.6 975.4 724.9 975.4 726 947.7 727.1 975.4 729.3 975.4 733 711.3 736.7 975.4 738.9 975.4 740 947 741.1 975.4 742.4 975.4 743.4 961.2 744.5 975.4 745.8 975.4 746.9 968.3 748 975.4 749.3 975.4 750.4 971.9 751.5 975.4 762.9 974.7 932 974.7" stroke="#000" stroke-width="2" fill="none" stroke-linejoin="round"/>
<path d="M535.3 975.1 536.9 974 538.5 972.9 540.1 972.4 541.7 974.1 543.3 970.7 544.9 973.1 546.5 971.3 548.1 971.7 549.6 972 551.2 972.9 552.8 976.4 554.4 973.4 556 973.1 557.6 973.5 559.2 974.3 560.8 975.5 562.4 973.6 564 972.4 565.6 975 567.2 971.1 568.7 974.2 570.3 973.2 571.9 973.9 573.5 975.6 575.1 972.2 576.7 973.7 578.3 975.3 579.9 973.1 581.5 972.4 583.1 971.6 584.7 973.2 586.3 975.9 587.9 972.9 589.4 972.6 591 974.3 592.6 973.5 594.2 971.6 595.8 973.9 597.4 975.2 599 970.5 600.6 973.2 602.2 974.5 603.8 971.4 605.4 971.9 607 973.2 608.5 975.5 610.1 974.2 611.7 973.4 613.3 973.1 614.9 972.6 616.5 970.4 618.1 973.3 619.7 973.5 621.3 972.2 622.9 975.3 624.5 970.9 626.1 971.8 627.7 976.4 629.2 975.2 630.8 972.1 632.4 973.5 634 973.7 635.6 971.1 637.2 975.1 638.8 976.6 640.4 974.9 642 974.4 643.6 976.4 645.2 973 646.8 976.7 648.3 971.4 649.9 973 651.5 976.7 653.1 973.1 654.7 972.1 656.3 970.8 657.9 972.5 659.5 970.4 661.1 970.9 662.7 972.7 664.3 970.4 665.9 976.3 667.5 976.8 669 974.3 670.6 976.3 672.2 973.3 673.8 974.2 675.4 973 677 973.1 678.6 976.2 680.2 974.5 681.8 973.6 683.4 975.4 685 971.8 686.6 971.9 688.1 971.7 689.7 972.9 691.3 972.8 692.9 976.6 694.5 971.1 696.1 971.5 697.7 974.8 699.3 974.8 700.9 973.1 702.5 974.2 704.1 976.3 705.7 975.4 707.3 974.1 708.8 976.8 710.4 976 712 973.6 713.6 975.7 715.2 973.4 716.8 973.6 718.4 972.9 720 972.9 721.6 975.7 723.2 974.6 724.8 974.6 726.4 973.3 727.9 972.8 729.5 973.2 731.1 973.3 732.7 974.1 734.3 974.5 735.9 972.6 737.5 971.2 739.1 974.7 740.7 971 742.3 972.5 743.9 974.5 745.5 974.2 747.1 972.4 748.6 973.9 750.2 970.2 751.8 971.6 753.4 972.4 755 972.9 756.6 974.3 758.2 975.2 759.8 975.9 761.4 971.9 763 975.2 764.6 973.8 766.2 977 767.7 974.9 769.3 971.1 770.9 974.2 772.5 973.5 774.1 972.7 775.7 973.6 777.3 973.4 778.9 972 780.5 974.4 782.1 972.7 783.7 973.7 785.3 974.4 786.9 973.5 788.4 971.9 790 973.4 791.6 970.8 793.2 974.7 794.8 972 796.4 972.1 798 973.7 799.6 972.6 801.2 972.8 802.8 971.8 804.4 973.3 806 970.7 807.5 970.4 809.1 971.1 810.7 975 812.3 975.2 813.9 975.7 815.5 973.3 817.1 976.8 818.7 974.2 820.3 974 821.9 972.9 823.5 973.3 825.1 972.7 826.7 974 828.2 969 829.8 970.1 831.4 974.9 833 975.9 834.6 971.1 836.2 972.6 837.8 973.2 839.4 971.7 841 974.3 842.6 971.3 844.2 972.4 845.8 975.6 847.3 974.4 848.9 975.4 850.5 969 852.1 971.4 853.7 973.9 855.3 973.1 856.9 973.3 858.5 970.7 860.1 967.7 861.7 972.6 863.3 974.5 864.9 973 866.5 974.7 868 969.4 869.6 975.9 871.2 969.6 872.8 972.6 874.4 976.2 876 973.3 877.6 976.3 879.2 972.2 880.8 976.2 882.4 972 884 972.8 885.6 971.8 887.1 971.8 888.7 971.6 890.3 974.3 891.9 971 893.5 971 895.1 973 896.7 972.1 898.3 974.2 899.9 973.5 901.5 973.8 903.1 974 904.7 972.4 906.3 970.5 907.8 973.3 909.4 972.3 911 973.1 912.6 972.9 914.2 971.4 915.8 973 917.4 974.6 919 971.1 920.6 971.7 922.2 971 923.8 973.8 925.4 971.2 926.9 973.5 928.5 975.4 930.1 973.1 931.7 974 583 962 586 966 626.6 970.2 629.5 931.3 632.6 918.5 635.4 926 636.4 962.9 638 962.5 640 967.4 641.4 966.3 642.1 964.9 644.9 968.2 662.1 969.1 677 967.2 681.7 964.8 689.9 969.1 701.4 963.4 701.5 963.9 707.2 963.4 712.9 963.4 713.5 962.9 714.9 947.6 715.4 947.6 716.8 962.9 720.6 944.7 722.6 931.3 722.6 944.2 723 931.5 724.5 943.2 727 921.2 728.4 893.6 728.9 894 730.8 846.2 732.3 744.9 734.6 925 737.5 907.8 739 920.2 743.3 938 744.6 939.9 744.7 939.9 748.4 948.5 749 948.5 755.6 959.1 756.7 960.1 775.3 965.8 780.1 966.3 783.9 965.3 802.2 969.1 824.7 968.1 826.6 961.9 828.2 933.1 831 921.6 832.2 956.9 834.1 967.5 839 966.2 849 969.6 883 965" fill="none" stroke="none" marker-start="url(#sq)" marker-mid="url(#sq)" marker-end="url(#sq)"/>
<path d="M534 975.4 623.5 975.4 630 975.4 633.5 924.2 637 975.4 643.5 975.4 703.1 975.4 714.6 975.4 715.6 973.3 716.6 975.4 718.1 975.4 719.1 971.1 720.1 975.4 721.6 975.4 722.6 969 723.5 975.4 725 975.4 726 951.2 727 975.4 729.5 975.4 733 726.6 736.5 975.4 739 975.4 740 949.5 741 975.4 742.5 975.4 743.4 964 744.4 975.4 745.9 975.4 746.9 970.1 747.9 975.4 749.4 975.4 750.4 972.6 751.4 975.4 762.9 975.4 822.5 975.4 829 975.4 832.5 925.6 836 975.4 842.5 975.4 932 975.4" stroke="#e3221b" stroke-width="1.7" fill="none" stroke-linejoin="round"/>
<path d="M534.3 973.4 535.5 972.9 536.7 974.2 537.9 974.6 539.1 974.5 540.3 976.8 541.5 972.6 542.6 975.7 543.8 971.4 545 974.6 546.2 975.5 547.4 972.2 548.6 974.1 549.8 970.7 551 974.5 552.2 974.4 553.4 974.3 554.6 976.7 555.8 974.8 557 973.8 558.2 975 559.4 973.5 560.6 975.3 561.7 974.6 562.9 974.8 564.1 976.5 565.3 975.4 566.5 972.4 567.7 976.7 568.9 971.6 570.1 973.6 571.3 976.7 572.5 974.2 573.7 976.4 574.9 973.6 576.1 972.5 577.3 973.3 578.5 975.7 579.7 974.3 580.9 976.5 582 976 583.2 972 584.4 976.5 585.6 974.4 586.8 975.6 588 972.7 589.2 974.3 590.4 971.1 591.6 970 592.8 974 594 974.5 595.2 976.9 596.4 975.4 597.6 975.3 598.8 976.8 600 976.3 601.2 973.2 602.3 974.8 603.5 974.4 604.7 975.2 605.9 974 607.1 975.3 608.3 976.8 609.5 976.5 610.7 976.3 611.9 974.1 613.1 974.2 614.3 976.4 615.5 975.4 616.7 975.8 617.9 970.8 619.1 974.3 620.3 976.1 621.4 974.1 622.6 973.7 623.8 976.9 625 974.2 626.2 974.2 627.4 975.6 628.6 976.7 629.8 976.4 631 975.6 632.2 976.6 633.4 969.8 634.6 976.1 635.8 973.6 637 972.3 638.2 974.2 639.4 976.6 640.6 972.2 641.7 975.7 642.9 973.5 644.1 976.7 645.3 976.6 646.5 975.8 647.7 974.5 648.9 976.3 650.1 974.7 651.3 974.2 652.5 975.5 653.7 974.1 654.9 973.7 656.1 971.8 657.3 973.9 658.5 973.9 659.7 976.5 660.9 975.1 662 971.3 663.2 974.9 664.4 972.6 665.6 976.3 666.8 974.5 668 974.7 669.2 973.9 670.4 971.9 671.6 974.3 672.8 972.6 674 973.4 675.2 976.7 676.4 975 677.6 975.4 678.8 975.4 680 975.2 681.1 973.1 682.3 973 683.5 974.2 684.7 975.1 685.9 973.6 687.1 972.4 688.3 973.4 689.5 972.2 690.7 975.6 691.9 971.5 693.1 974.3 694.3 973.7 695.5 975.4 696.7 975.2 697.9 973.7 699.1 973.7 700.3 975.9 701.4 975.2 702.6 975.6 703.8 976.8 705 971.4 706.2 973 707.4 972.6 708.6 974 709.8 971.2 711 973.9 712.2 971.3 713.4 976.3 714.6 972.6 715.8 974.4 717 974 718.2 976 719.4 974.2 720.6 975.3 721.7 973.4 722.9 973.2 724.1 975.8 725.3 973.5 726.5 973.7 727.7 970.2 728.9 975.4 730.1 973.8 731.3 972.9 732.5 974.3 733.7 975.2 734.9 975.5 736.1 974.4 737.3 973.9 738.5 974.7 739.7 973.2 740.8 972.9 742 976 743.2 975.1 744.4 975.1 745.6 976.1 746.8 972.5 748 974.7 749.2 974.2 750.4 974.1 751.6 973.3 752.8 970.9 754 974.8 755.2 974.5 756.4 972.9 757.6 973.3 758.8 975 760 974.7 761.1 973.1 762.3 975.3 763.5 976.5 764.7 973.2 765.9 976.6 767.1 972.7 768.3 974.5 769.5 975.8 770.7 974.6 771.9 974.7 773.1 972.6 774.3 975 775.5 975.5 776.7 974.2 777.9 972 779.1 972.6 780.3 974.2 781.4 974.7 782.6 975.3 783.8 973.3 785 973.3 786.2 971.5 787.4 974.4 788.6 975.2 789.8 974.7 791 974.7 792.2 976 793.4 974.6 794.6 976.3 795.8 976.3 797 974.5 798.2 975 799.4 975.6 800.5 975.5 801.7 973.7 802.9 973.6 804.1 973.6 805.3 973 806.5 972.6 807.7 970.9 808.9 971.3 810.1 974.2 811.3 976.7 812.5 972.6 813.7 972.8 814.9 975.1 816.1 976.8 817.3 976.1 818.5 976 819.7 976.8 820.8 974.2 822 973.3 823.2 974 824.4 973.5 825.6 973.2 826.8 975.8 828 974.8 829.2 974.7 830.4 975.2 831.6 974.5 832.8 970.7 834 972.6 835.2 970.3 836.4 973 837.6 972.7 838.8 972.8 840 977 841.1 974.7 842.3 976.1 843.5 973.7 844.7 975.4 845.9 975.9 847.1 975.6 848.3 976.8 849.5 976.1 850.7 971.5 851.9 974.2 853.1 974.2 854.3 971.9 855.5 975 856.7 973.3 857.9 976.4 859.1 974.1 860.2 974.2 861.4 971.5 862.6 974.7 863.8 974.7 865 972.8 866.2 974.2 867.4 972.3 868.6 975.7 869.8 976.2 871 975.3 872.2 972.8 873.4 973.3 874.6 973.6 875.8 975.2 877 973.5 878.2 974.6 879.4 973.9 880.5 976.5 881.7 972.3 882.9 971.9 884.1 973.8 885.3 976.9 886.5 975.2 887.7 976 888.9 976.1 890.1 974.7 891.3 973.1 892.5 974.6 893.7 971.2 894.9 973.4 896.1 976 897.3 973.3 898.5 976.6 899.7 975.6 900.8 975.4 902 973.2 903.2 974.3 904.4 973.9 905.6 974.2 906.8 971.1 908 974.1 909.2 973.6 910.4 971.1 911.6 970.8 912.8 975.7 914 973.8 915.2 976.1 916.4 975.5 917.6 972 918.8 974.6 919.9 976.4 921.1 975.8 922.3 972.4 923.5 972.5 924.7 974.9 925.9 973.3 927.1 974.1 928.3 975.5 929.5 976.6 930.7 975.8 931.9 975 580.7 965.6 583.4 960 588.5 968.8 701.5 966.8 706.8 966.8 713.9 970.1 717.7 969.1 720.6 959.1 721.7 959.1 724.5 947.6 725.5 948.5 727.8 932.7 728.9 932.7 730.8 830.9 732.7 724.5 734.6 783.7 736.5 851.9 738.5 936.1 738.8 936 740.4 912.1 742.3 948.1 742.7 948 744.1 964.3 746.5 961.5 746.6 951.4 746.6 962.9 747 950.9 749 960.5 749.4 958.1 752.4 965.8 762.4 964.3 762.5 965.8 768.1 964.8 768.2 965.8 775.4 968.7 784.9 967.7 795.5 970.1 803.1 968.7 880 963.5 882.4 966.7 885 964.5 895.4 967.5" fill="none" stroke="none" marker-start="url(#di)" marker-mid="url(#di)" marker-end="url(#di)"/>
</g>
<path d="M534 979v-5.5M534 691v5.5M583.8 979v-5.5M583.8 691v5.5M633.5 979v-5.5M633.5 691v5.5M683.2 979v-5.5M683.2 691v5.5M733 979v-5.5M733 691v5.5M782.8 979v-5.5M782.8 691v5.5M832.5 979v-5.5M832.5 691v5.5M882.2 979v-5.5M882.2 691v5.5M932 979v-5.5M932 691v5.5M534 975.4h5.5M932 975.4h-5.5M534 904.3h5.5M932 904.3h-5.5M534 833.2h5.5M932 833.2h-5.5M534 762.1h5.5M932 762.1h-5.5M534 691h5.5M932 691h-5.5" stroke="#000" stroke-width="1.5" fill="none"/>
<rect x="534" y="691" width="398" height="288" fill="none" stroke="#000" stroke-width="1.8"/>
<ellipse cx="633.2" cy="952" rx="13.4" ry="56.6" fill="none" stroke="#e3221b" stroke-width="1.2" stroke-dasharray="7 3.5"/>
<ellipse cx="832.2" cy="952" rx="13.4" ry="56.6" fill="none" stroke="#e3221b" stroke-width="1.2" stroke-dasharray="7 3.5"/>
<g fill="#000"><rect x="109.6" y="319.3" width="15.5" height="1.35"/><rect x="516.4" y="319.3" width="15.5" height="1.35"/><rect x="560.4" y="319.3" width="15.5" height="1.35"/><rect x="600.4" y="319.3" width="15.5" height="1.35"/><rect x="636.3" y="319.3" width="15.5" height="1.35"/><rect x="676.4" y="319.3" width="15.5" height="1.35"/><rect x="57.7" y="656.3" width="15.5" height="1.35"/><rect x="101.9" y="656.3" width="15.5" height="1.35"/><rect x="142.1" y="656.3" width="15.5" height="1.35"/><rect x="177.8" y="656.3" width="15.5" height="1.35"/><rect x="217.4" y="656.3" width="15.5" height="1.35"/><rect x="516.4" y="656.3" width="15.5" height="1.35"/><rect x="560.4" y="656.3" width="15.5" height="1.35"/><rect x="600.4" y="656.3" width="15.5" height="1.35"/><rect x="636.3" y="656.3" width="15.5" height="1.35"/><rect x="676.4" y="656.3" width="15.5" height="1.35"/><rect x="57.7" y="996.3" width="15.5" height="1.35"/><rect x="101.9" y="996.3" width="15.5" height="1.35"/><rect x="142.1" y="996.3" width="15.5" height="1.35"/><rect x="177.8" y="996.3" width="15.5" height="1.35"/><rect x="217.4" y="996.3" width="15.5" height="1.35"/><rect x="523.6" y="996.3" width="15.5" height="1.35"/><rect x="571.6" y="996.3" width="15.5" height="1.35"/><rect x="616.3" y="996.3" width="15.5" height="1.35"/><rect x="659.4" y="996.3" width="15.5" height="1.35"/></g>
<rect x="307.8" y="34.6" width="7.6" height="7.6" fill="none" stroke="#e3321c" stroke-width="1.2"/><path d="M311.7 66.8l5.2 5.2-5.2 5.2-5.2-5.2z" fill="none" stroke="#48248f" stroke-width="1.2"/><rect x="785.1" y="34.6" width="7.6" height="7.6" fill="none" stroke="#e3321c" stroke-width="1.2"/><path d="M789.3 66.8l5.2 5.2-5.2 5.2-5.2-5.2z" fill="none" stroke="#48248f" stroke-width="1.2"/><rect x="320.3" y="370.9" width="7.6" height="7.6" fill="none" stroke="#e3321c" stroke-width="1.2"/><path d="M324.2 403.7l5.2 5.2-5.2 5.2-5.2-5.2z" fill="none" stroke="#48248f" stroke-width="1.2"/><rect x="768.5" y="371.2" width="7.6" height="7.6" fill="none" stroke="#e3321c" stroke-width="1.2"/><path d="M772.4 403.8l5.2 5.2-5.2 5.2-5.2-5.2z" fill="none" stroke="#48248f" stroke-width="1.2"/><rect x="307.7" y="711.9" width="7.6" height="7.6" fill="none" stroke="#e3321c" stroke-width="1.2"/><path d="M311.7 744.6l5.2 5.2-5.2 5.2-5.2-5.2z" fill="none" stroke="#48248f" stroke-width="1.2"/><rect x="806.7" y="709.7" width="7.6" height="7.6" fill="none" stroke="#e3321c" stroke-width="1.2"/><path d="M810.5 734.7l5.2 5.2-5.2 5.2-5.2-5.2z" fill="none" stroke="#48248f" stroke-width="1.2"/>
<rect x="255.2" y="1031.9" width="17.9" height="1.3"/>
<rect x="696" y="1031.9" width="17.9" height="1.3"/>
<g transform="matrix(0.2634 0 0 0.2410 11.22 276.12)"><text x="100" y="100" font-size="100">0.0</text></g>
<g transform="matrix(0.2634 0 0 0.2410 11.68 183.01)"><text x="100" y="100" font-size="100">0.2</text></g>
<g transform="matrix(0.2634 0 0 0.2410 10.63 89.91)"><text x="100" y="100" font-size="100">0.4</text></g>
<g transform="matrix(0.2634 0 0 0.2410 11.02 -3.2)"><text x="100" y="100" font-size="100">0.6</text></g>
<g transform="matrix(0.2634 0 0 0.2410 99.28 303.1)"><text x="100" y="100" font-size="100">1</text></g>
<g transform="matrix(0.2634 0 0 0.2410 243.07 303.1)"><text x="100" y="100" font-size="100">0</text></g>
<g transform="matrix(0.2634 0 0 0.2410 395.79 303.1)"><text x="100" y="100" font-size="100">1</text></g>
<g transform="matrix(0.2634 0 0 0.2410 468.22 276.52)"><text x="100" y="100" font-size="100">0.0</text></g>
<g transform="matrix(0.2634 0 0 0.2410 468.81 196.51)"><text x="100" y="100" font-size="100">0.1</text></g>
<g transform="matrix(0.2634 0 0 0.2410 468.68 116.5)"><text x="100" y="100" font-size="100">0.2</text></g>
<g transform="matrix(0.2634 0 0 0.2410 468.29 36.49)"><text x="100" y="100" font-size="100">0.3</text></g>
<g transform="matrix(0.2634 0 0 0.2410 506.84 303.1)"><text x="100" y="100" font-size="100">5</text></g>
<g transform="matrix(0.2634 0 0 0.2410 551.83 303.1)"><text x="100" y="100" font-size="100">4</text></g>
<g transform="matrix(0.2634 0 0 0.2410 591.11 303.1)"><text x="100" y="100" font-size="100">3</text></g>
<g transform="matrix(0.2634 0 0 0.2410 627.07 303.1)"><text x="100" y="100" font-size="100">2</text></g>
<g transform="matrix(0.2634 0 0 0.2410 666.05 303.1)"><text x="100" y="100" font-size="100">1</text></g>
<g transform="matrix(0.2634 0 0 0.2410 699.87 303.1)"><text x="100" y="100" font-size="100">0</text></g>
<g transform="matrix(0.2634 0 0 0.2410 739.31 303.1)"><text x="100" y="100" font-size="100">1</text></g>
<g transform="matrix(0.2634 0 0 0.2410 779.31 303.1)"><text x="100" y="100" font-size="100">2</text></g>
<g transform="matrix(0.2634 0 0 0.2410 819.27 303.1)"><text x="100" y="100" font-size="100">3</text></g>
<g transform="matrix(0.2634 0 0 0.2410 859.21 303.1)"><text x="100" y="100" font-size="100">4</text></g>
<g transform="matrix(0.2634 0 0 0.2410 898.44 303.1)"><text x="100" y="100" font-size="100">5</text></g>
<g transform="matrix(0.2634 0 0 0.2410 11.22 613.13)"><text x="100" y="100" font-size="100">0.0</text></g>
<g transform="matrix(0.2634 0 0 0.2410 11.81 533.23)"><text x="100" y="100" font-size="100">0.1</text></g>
<g transform="matrix(0.2634 0 0 0.2410 11.68 453.33)"><text x="100" y="100" font-size="100">0.2</text></g>
<g transform="matrix(0.2634 0 0 0.2410 11.29 373.43)"><text x="100" y="100" font-size="100">0.3</text></g>
<g transform="matrix(0.2634 0 0 0.2410 48.14 640.1)"><text x="100" y="100" font-size="100">5</text></g>
<g transform="matrix(0.2634 0 0 0.2410 93.33 640.1)"><text x="100" y="100" font-size="100">4</text></g>
<g transform="matrix(0.2634 0 0 0.2410 132.81 640.1)"><text x="100" y="100" font-size="100">3</text></g>
<g transform="matrix(0.2634 0 0 0.2410 168.57 640.1)"><text x="100" y="100" font-size="100">2</text></g>
<g transform="matrix(0.2634 0 0 0.2410 207.05 640.1)"><text x="100" y="100" font-size="100">1</text></g>
<g transform="matrix(0.2634 0 0 0.2410 240.97 640.1)"><text x="100" y="100" font-size="100">0</text></g>
<g transform="matrix(0.2634 0 0 0.2410 280.61 640.1)"><text x="100" y="100" font-size="100">1</text></g>
<g transform="matrix(0.2634 0 0 0.2410 321.21 640.1)"><text x="100" y="100" font-size="100">2</text></g>
<g transform="matrix(0.2634 0 0 0.2410 360.77 640.1)"><text x="100" y="100" font-size="100">3</text></g>
<g transform="matrix(0.2634 0 0 0.2410 400.41 640.1)"><text x="100" y="100" font-size="100">4</text></g>
<g transform="matrix(0.2634 0 0 0.2410 440.24 640.1)"><text x="100" y="100" font-size="100">5</text></g>
<g transform="matrix(0.2634 0 0 0.2410 468.22 612.31)"><text x="100" y="100" font-size="100">0.0</text></g>
<g transform="matrix(0.2634 0 0 0.2410 468.81 519.47)"><text x="100" y="100" font-size="100">0.1</text></g>
<g transform="matrix(0.2634 0 0 0.2410 468.68 426.64)"><text x="100" y="100" font-size="100">0.2</text></g>
<g transform="matrix(0.2634 0 0 0.2410 468.29 333.8)"><text x="100" y="100" font-size="100">0.3</text></g>
<g transform="matrix(0.2634 0 0 0.2410 506.84 640.1)"><text x="100" y="100" font-size="100">5</text></g>
<g transform="matrix(0.2634 0 0 0.2410 551.83 640.1)"><text x="100" y="100" font-size="100">4</text></g>
<g transform="matrix(0.2634 0 0 0.2410 591.11 640.1)"><text x="100" y="100" font-size="100">3</text></g>
<g transform="matrix(0.2634 0 0 0.2410 627.07 640.1)"><text x="100" y="100" font-size="100">2</text></g>
<g transform="matrix(0.2634 0 0 0.2410 666.05 640.1)"><text x="100" y="100" font-size="100">1</text></g>
<g transform="matrix(0.2634 0 0 0.2410 699.87 640.1)"><text x="100" y="100" font-size="100">0</text></g>
<g transform="matrix(0.2634 0 0 0.2410 739.31 640.1)"><text x="100" y="100" font-size="100">1</text></g>
<g transform="matrix(0.2634 0 0 0.2410 779.31 640.1)"><text x="100" y="100" font-size="100">2</text></g>
<g transform="matrix(0.2634 0 0 0.2410 819.27 640.1)"><text x="100" y="100" font-size="100">3</text></g>
<g transform="matrix(0.2634 0 0 0.2410 859.21 640.1)"><text x="100" y="100" font-size="100">4</text></g>
<g transform="matrix(0.2634 0 0 0.2410 898.44 640.1)"><text x="100" y="100" font-size="100">5</text></g>
<g transform="matrix(0.2634 0 0 0.2410 11.22 953.15)"><text x="100" y="100" font-size="100">0.0</text></g>
<g transform="matrix(0.2634 0 0 0.2410 11.81 860.37)"><text x="100" y="100" font-size="100">0.1</text></g>
<g transform="matrix(0.2634 0 0 0.2410 11.68 767.58)"><text x="100" y="100" font-size="100">0.2</text></g>
<g transform="matrix(0.2634 0 0 0.2410 11.29 674.8)"><text x="100" y="100" font-size="100">0.3</text></g>
<g transform="matrix(0.2634 0 0 0.2410 48.14 980.1)"><text x="100" y="100" font-size="100">5</text></g>
<g transform="matrix(0.2634 0 0 0.2410 93.33 980.1)"><text x="100" y="100" font-size="100">4</text></g>
<g transform="matrix(0.2634 0 0 0.2410 132.81 980.1)"><text x="100" y="100" font-size="100">3</text></g>
<g transform="matrix(0.2634 0 0 0.2410 168.57 980.1)"><text x="100" y="100" font-size="100">2</text></g>
<g transform="matrix(0.2634 0 0 0.2410 207.05 980.1)"><text x="100" y="100" font-size="100">1</text></g>
<g transform="matrix(0.2634 0 0 0.2410 240.97 980.1)"><text x="100" y="100" font-size="100">0</text></g>
<g transform="matrix(0.2634 0 0 0.2410 280.61 980.1)"><text x="100" y="100" font-size="100">1</text></g>
<g transform="matrix(0.2634 0 0 0.2410 321.21 980.1)"><text x="100" y="100" font-size="100">2</text></g>
<g transform="matrix(0.2634 0 0 0.2410 360.77 980.1)"><text x="100" y="100" font-size="100">3</text></g>
<g transform="matrix(0.2634 0 0 0.2410 400.41 980.1)"><text x="100" y="100" font-size="100">4</text></g>
<g transform="matrix(0.2634 0 0 0.2410 440.24 980.1)"><text x="100" y="100" font-size="100">5</text></g>
<g transform="matrix(0.2634 0 0 0.2410 468.22 959.21)"><text x="100" y="100" font-size="100">0.0</text></g>
<g transform="matrix(0.2634 0 0 0.2410 468.68 888.11)"><text x="100" y="100" font-size="100">0.2</text></g>
<g transform="matrix(0.2634 0 0 0.2410 467.63 817)"><text x="100" y="100" font-size="100">0.4</text></g>
<g transform="matrix(0.2634 0 0 0.2410 468.02 745.9)"><text x="100" y="100" font-size="100">0.6</text></g>
<g transform="matrix(0.2634 0 0 0.2410 468.22 674.8)"><text x="100" y="100" font-size="100">0.8</text></g>
<g transform="matrix(0.2634 0 0 0.2410 515.03 980.1)"><text x="100" y="100" font-size="100">4</text></g>
<g transform="matrix(0.2634 0 0 0.2410 562.31 980.1)"><text x="100" y="100" font-size="100">3</text></g>
<g transform="matrix(0.2634 0 0 0.2410 607.07 980.1)"><text x="100" y="100" font-size="100">2</text></g>
<g transform="matrix(0.2634 0 0 0.2410 649 980.1)"><text x="100" y="100" font-size="100">1</text></g>
<g transform="matrix(0.2634 0 0 0.2410 699.57 980.1)"><text x="100" y="100" font-size="100">0</text></g>
<g transform="matrix(0.2634 0 0 0.2410 749.06 980.1)"><text x="100" y="100" font-size="100">1</text></g>
<g transform="matrix(0.2634 0 0 0.2410 799.41 980.1)"><text x="100" y="100" font-size="100">2</text></g>
<g transform="matrix(0.2634 0 0 0.2410 848.22 980.1)"><text x="100" y="100" font-size="100">3</text></g>
<g transform="matrix(0.2634 0 0 0.2410 898.61 980.1)"><text x="100" y="100" font-size="100">4</text></g>
<g transform="matrix(0.4069 0 0 0.3779 44.88 19.18)"><text x="100" y="100" font-size="100">(a)</text></g>
<g transform="matrix(0.4065 0 0 0.3736 508.52 18.41)"><text x="100" y="100" font-size="100">(b)</text></g>
<g transform="matrix(0.3892 0 0 0.3691 47.63 346.25)"><text x="100" y="100" font-size="100">(c)</text></g>
<g transform="matrix(0.4009 0 0 0.3702 508.1 350.11)"><text x="100" y="100" font-size="100">(d)</text></g>
<g transform="matrix(0.3902 0 0 0.3691 50.42 697.45)"><text x="100" y="100" font-size="100">(e)</text></g>
<g transform="matrix(0.4121 0 0 0.3771 510.54 694.48)"><text x="100" y="100" font-size="100">(f)</text></g>
<g transform="matrix(0.3224 0 0 0.3030 127.43 15.4)"><text x="100" y="100" font-size="100" font-style="italic">A</text></g>
<g transform="matrix(0.4538 0 0 0.3160 140.15 17.46)"><text x="100" y="100" font-size="100">=</text></g>
<g transform="matrix(0.3272 0 0 0.2750 183.26 18.39)"><text x="100" y="100" font-size="100">0.38</text></g>
<g transform="matrix(0.3209 0 0 0.3045 590.08 18.65)"><text x="100" y="100" font-size="100" font-style="italic">A</text></g>
<g transform="matrix(0.4538 0 0 0.3160 602.65 20.86)"><text x="100" y="100" font-size="100">=</text></g>
<g transform="matrix(0.3049 0 0 0.2853 649.77 20.84)"><text x="100" y="100" font-size="100">0.76</text></g>
<g transform="matrix(0.3104 0 0 0.3152 125.66 350.48)"><text x="100" y="100" font-size="100" font-style="italic">A</text></g>
<g transform="matrix(0.4538 0 0 0.3160 137.25 353.76)"><text x="100" y="100" font-size="100">=</text></g>
<g transform="matrix(0.3223 0 0 0.2874 180.65 352.83)"><text x="100" y="100" font-size="100">1.14</text></g>
<g transform="matrix(0.3149 0 0 0.3045 598.54 354.55)"><text x="100" y="100" font-size="100" font-style="italic">A</text></g>
<g transform="matrix(0.4538 0 0 0.3160 610.55 356.76)"><text x="100" y="100" font-size="100">=</text></g>
<g transform="matrix(0.3061 0 0 0.2804 657.42 356.74)"><text x="100" y="100" font-size="100">1.52</text></g>
<g transform="matrix(0.3104 0 0 0.3045 125.66 692.25)"><text x="100" y="100" font-size="100" font-style="italic">A</text></g>
<g transform="matrix(0.4538 0 0 0.3160 137.25 694.46)"><text x="100" y="100" font-size="100">=</text></g>
<g transform="matrix(0.3332 0 0 0.2760 179.47 694.68)"><text x="100" y="100" font-size="100">1.9</text></g>
<g transform="matrix(0.3116 0 0 0.2383 302.47 22.83)"><text x="100" y="100" font-size="100" font-style="italic">ν</text></g>
<g transform="matrix(0.2336 0 0 0.1854 323.61 31.97)"><text x="100" y="100" font-size="100">s</text></g>
<g transform="matrix(0.3720 0 0 0.3160 323.54 18.66)"><text x="100" y="100" font-size="100">=</text></g>
<g transform="matrix(0.2707 0 0 0.2474 359.27 22.21)"><text x="100" y="100" font-size="100">50</text></g>
<g transform="matrix(0.2727 0 0 0.2534 388.91 21.56)"><text x="100" y="100" font-size="100">Hz</text></g>
<g transform="matrix(0.3116 0 0 0.2383 302.47 55.73)"><text x="100" y="100" font-size="100" font-style="italic">ν</text></g>
<g transform="matrix(0.2336 0 0 0.1854 323.61 64.87)"><text x="100" y="100" font-size="100">s</text></g>
<g transform="matrix(0.3720 0 0 0.3160 323.54 51.56)"><text x="100" y="100" font-size="100">=</text></g>
<g transform="matrix(0.2633 0 0 0.2474 359.77 55.11)"><text x="100" y="100" font-size="100">100</text></g>
<g transform="matrix(0.2727 0 0 0.2534 402.61 54.46)"><text x="100" y="100" font-size="100">Hz</text></g>
<g transform="matrix(0.2898 0 0 0.2383 772.98 18.93)"><text x="100" y="100" font-size="100" font-style="italic">ν</text></g>
<g transform="matrix(0.2172 0 0 0.1854 792.64 28.07)"><text x="100" y="100" font-size="100">s</text></g>
<g transform="matrix(0.3460 0 0 0.3160 792.57 14.76)"><text x="100" y="100" font-size="100">=</text></g>
<g transform="matrix(0.2518 0 0 0.2474 825.81 18.31)"><text x="100" y="100" font-size="100">50</text></g>
<g transform="matrix(0.2536 0 0 0.2534 853.38 17.66)"><text x="100" y="100" font-size="100">Hz</text></g>
<g transform="matrix(0.2898 0 0 0.2383 772.98 52.53)"><text x="100" y="100" font-size="100" font-style="italic">ν</text></g>
<g transform="matrix(0.2172 0 0 0.1854 792.64 61.67)"><text x="100" y="100" font-size="100">s</text></g>
<g transform="matrix(0.3460 0 0 0.3160 792.57 48.36)"><text x="100" y="100" font-size="100">=</text></g>
<g transform="matrix(0.2448 0 0 0.2474 826.27 51.91)"><text x="100" y="100" font-size="100">100</text></g>
<g transform="matrix(0.2536 0 0 0.2534 866.12 51.26)"><text x="100" y="100" font-size="100">Hz</text></g>
<g transform="matrix(0.3116 0 0 0.2383 306.37 355.83)"><text x="100" y="100" font-size="100" font-style="italic">ν</text></g>
<g transform="matrix(0.2336 0 0 0.1854 327.51 364.97)"><text x="100" y="100" font-size="100">s</text></g>
<g transform="matrix(0.3720 0 0 0.3160 327.44 351.66)"><text x="100" y="100" font-size="100">=</text></g>
<g transform="matrix(0.2707 0 0 0.2474 363.17 355.21)"><text x="100" y="100" font-size="100">50</text></g>
<g transform="matrix(0.2727 0 0 0.2534 392.81 354.56)"><text x="100" y="100" font-size="100">Hz</text></g>
<g transform="matrix(0.3116 0 0 0.2383 306.37 388.83)"><text x="100" y="100" font-size="100" font-style="italic">ν</text></g>
<g transform="matrix(0.2336 0 0 0.1854 327.51 397.97)"><text x="100" y="100" font-size="100">s</text></g>
<g transform="matrix(0.3720 0 0 0.3160 327.44 384.66)"><text x="100" y="100" font-size="100">=</text></g>
<g transform="matrix(0.2633 0 0 0.2474 363.67 388.21)"><text x="100" y="100" font-size="100">100</text></g>
<g transform="matrix(0.2727 0 0 0.2534 406.51 387.56)"><text x="100" y="100" font-size="100">Hz</text></g>
<g transform="matrix(0.3116 0 0 0.2383 759.47 357.43)"><text x="100" y="100" font-size="100" font-style="italic">ν</text></g>
<g transform="matrix(0.2336 0 0 0.1854 780.61 366.57)"><text x="100" y="100" font-size="100">s</text></g>
<g transform="matrix(0.3720 0 0 0.3160 780.54 353.26)"><text x="100" y="100" font-size="100">=</text></g>
<g transform="matrix(0.2707 0 0 0.2474 816.27 356.81)"><text x="100" y="100" font-size="100">50</text></g>
<g transform="matrix(0.2727 0 0 0.2534 845.91 356.16)"><text x="100" y="100" font-size="100">Hz</text></g>
<g transform="matrix(0.3116 0 0 0.2383 759.47 390.73)"><text x="100" y="100" font-size="100" font-style="italic">ν</text></g>
<g transform="matrix(0.2336 0 0 0.1854 780.61 399.87)"><text x="100" y="100" font-size="100">s</text></g>
<g transform="matrix(0.3720 0 0 0.3160 780.54 386.56)"><text x="100" y="100" font-size="100">=</text></g>
<g transform="matrix(0.2633 0 0 0.2474 816.77 390.11)"><text x="100" y="100" font-size="100">100</text></g>
<g transform="matrix(0.2727 0 0 0.2534 859.61 389.46)"><text x="100" y="100" font-size="100">Hz</text></g>
<g transform="matrix(0.3116 0 0 0.2383 299.37 696.53)"><text x="100" y="100" font-size="100" font-style="italic">ν</text></g>
<g transform="matrix(0.2336 0 0 0.1854 320.51 705.67)"><text x="100" y="100" font-size="100">s</text></g>
<g transform="matrix(0.3720 0 0 0.3160 320.44 692.36)"><text x="100" y="100" font-size="100">=</text></g>
<g transform="matrix(0.2707 0 0 0.2474 356.17 695.91)"><text x="100" y="100" font-size="100">50</text></g>
<g transform="matrix(0.2727 0 0 0.2534 385.81 695.26)"><text x="100" y="100" font-size="100">Hz</text></g>
<g transform="matrix(0.3116 0 0 0.2383 299.37 729.43)"><text x="100" y="100" font-size="100" font-style="italic">ν</text></g>
<g transform="matrix(0.2336 0 0 0.1854 320.51 738.57)"><text x="100" y="100" font-size="100">s</text></g>
<g transform="matrix(0.3720 0 0 0.3160 320.44 725.26)"><text x="100" y="100" font-size="100">=</text></g>
<g transform="matrix(0.2633 0 0 0.2474 356.67 728.81)"><text x="100" y="100" font-size="100">100</text></g>
<g transform="matrix(0.2727 0 0 0.2534 399.51 728.16)"><text x="100" y="100" font-size="100">Hz</text></g>
<g transform="matrix(0.2740 0 0 0.2397 808.48 697.79)"><text x="100" y="100" font-size="100">Mode 1</text></g>
<g transform="matrix(0.2749 0 0 0.2355 808.39 726.12)"><text x="100" y="100" font-size="100">Mode 2</text></g>
<g transform="matrix(0.3145 0 0 0.3881 -5.85 128.69)"><text x="100" y="100" font-size="100" font-style="italic" transform="rotate(-90 100 100)">P</text></g>
<g transform="matrix(0.2083 0 0 0.2333 9.16 124.07)"><text x="100" y="100" font-size="100" font-style="italic" transform="rotate(-90 100 100)">e</text></g>
<g transform="matrix(0.3145 0 0 0.3814 -5.85 479.27)"><text x="100" y="100" font-size="100" font-style="italic" transform="rotate(-90 100 100)">P</text></g>
<g transform="matrix(0.2083 0 0 0.2333 9.16 473.97)"><text x="100" y="100" font-size="100" font-style="italic" transform="rotate(-90 100 100)">e</text></g>
<g transform="matrix(0.3145 0 0 0.3881 -5.85 799.79)"><text x="100" y="100" font-size="100" font-style="italic" transform="rotate(-90 100 100)">P</text></g>
<g transform="matrix(0.2083 0 0 0.2359 9.16 794.52)"><text x="100" y="100" font-size="100" font-style="italic" transform="rotate(-90 100 100)">e</text></g>
<g transform="matrix(0.2667 0 0 0.2994 188.53 1009.59)"><text x="100" y="100" font-size="100">(</text></g>
<g transform="matrix(0.2698 0 0 0.2429 197.94 1013.96)"><text x="100" y="100" font-size="100" font-style="italic">ω</text></g>
<g transform="matrix(0.1812 0 0 0.1393 225.7 1028.23)"><text x="100" y="100" font-size="100">0</text></g>
<g transform="matrix(0.2698 0 0 0.2429 249.54 1013.96)"><text x="100" y="100" font-size="100" font-style="italic">ω</text></g>
<g transform="matrix(0.2337 0 0 0.1985 272.58 1018.73)"><text x="100" y="100" font-size="100">p</text></g>
<g transform="matrix(0.2485 0 0 0.2994 284.24 1009.59)"><text x="100" y="100" font-size="100">)</text></g>
<g transform="matrix(0.4072 0 0 0.4060 280.98 1005)"><text x="100" y="100" font-size="100">/</text></g>
<g transform="matrix(0.2810 0 0 0.2471 307.19 1013.84)"><text x="100" y="100" font-size="100" font-style="italic">ω</text></g>
<g transform="matrix(0.2464 0 0 0.2000 329.57 1023.1)"><text x="100" y="100" font-size="100">s</text></g>
<g transform="matrix(0.2667 0 0 0.2994 629.33 1009.59)"><text x="100" y="100" font-size="100">(</text></g>
<g transform="matrix(0.2698 0 0 0.2429 638.74 1013.96)"><text x="100" y="100" font-size="100" font-style="italic">ω</text></g>
<g transform="matrix(0.1812 0 0 0.1393 666.5 1028.23)"><text x="100" y="100" font-size="100">0</text></g>
<g transform="matrix(0.2698 0 0 0.2429 690.34 1013.96)"><text x="100" y="100" font-size="100" font-style="italic">ω</text></g>
<g transform="matrix(0.2337 0 0 0.1985 713.38 1018.73)"><text x="100" y="100" font-size="100">p</text></g>
<g transform="matrix(0.2485 0 0 0.2994 725.04 1009.59)"><text x="100" y="100" font-size="100">)</text></g>
<g transform="matrix(0.4072 0 0 0.4060 721.78 1005)"><text x="100" y="100" font-size="100">/</text></g>
<g transform="matrix(0.2810 0 0 0.2471 747.99 1013.84)"><text x="100" y="100" font-size="100" font-style="italic">ω</text></g>
<g transform="matrix(0.2464 0 0 0.2000 770.37 1023.1)"><text x="100" y="100" font-size="100">s</text></g>
</svg>
</body></html>
